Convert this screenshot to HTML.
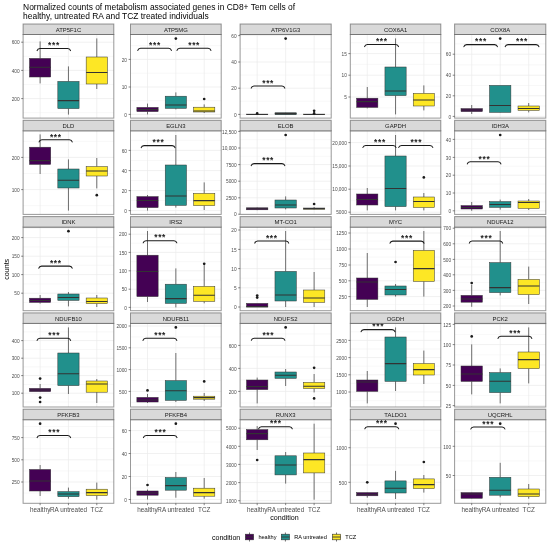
<!DOCTYPE html>
<html lang="en">
<head>
<meta charset="utf-8">
<title>Normalized counts of metabolism associated genes in CD8+ Tem cells</title>
<style>
html,body{margin:0;padding:0;background:#fff;}
body{width:550px;height:546px;overflow:hidden;}
svg{display:block;}
</style>
</head>
<body>
<svg width="550" height="546" viewBox="0 0 550 546" font-family="'Liberation Sans', sans-serif">
<rect x="0" y="0" width="550" height="546" fill="#ffffff"/>
<text x="23.1" y="9.8" font-size="8.44" fill="#000">Normalized counts of metabolism associated genes in CD8+ Tem cells of</text>
<text x="23.1" y="18.5" font-size="8.44" fill="#000">healthy, untreated RA and TCZ treated individuals</text>
<defs>
<clipPath id="cp0"><rect x="23.1" y="34.5" width="90.7" height="83.6"/></clipPath>
<clipPath id="cp1"><rect x="130.5" y="34.5" width="90.7" height="83.6"/></clipPath>
<clipPath id="cp2"><rect x="240.1" y="34.5" width="91.1" height="83.6"/></clipPath>
<clipPath id="cp3"><rect x="350.3" y="34.5" width="90.5" height="83.6"/></clipPath>
<clipPath id="cp4"><rect x="454.6" y="34.5" width="91.2" height="83.6"/></clipPath>
<clipPath id="cp5"><rect x="23.1" y="130.8" width="90.7" height="83.6"/></clipPath>
<clipPath id="cp6"><rect x="130.5" y="130.8" width="90.7" height="83.6"/></clipPath>
<clipPath id="cp7"><rect x="240.1" y="130.8" width="91.1" height="83.6"/></clipPath>
<clipPath id="cp8"><rect x="350.3" y="130.8" width="90.5" height="83.6"/></clipPath>
<clipPath id="cp9"><rect x="454.6" y="130.8" width="91.2" height="83.6"/></clipPath>
<clipPath id="cp10"><rect x="23.1" y="227.1" width="90.7" height="83.6"/></clipPath>
<clipPath id="cp11"><rect x="130.5" y="227.1" width="90.7" height="83.6"/></clipPath>
<clipPath id="cp12"><rect x="240.1" y="227.1" width="91.1" height="83.6"/></clipPath>
<clipPath id="cp13"><rect x="350.3" y="227.1" width="90.5" height="83.6"/></clipPath>
<clipPath id="cp14"><rect x="454.6" y="227.1" width="91.2" height="83.6"/></clipPath>
<clipPath id="cp15"><rect x="23.1" y="323.4" width="90.7" height="83.6"/></clipPath>
<clipPath id="cp16"><rect x="130.5" y="323.4" width="90.7" height="83.6"/></clipPath>
<clipPath id="cp17"><rect x="240.1" y="323.4" width="91.1" height="83.6"/></clipPath>
<clipPath id="cp18"><rect x="350.3" y="323.4" width="90.5" height="83.6"/></clipPath>
<clipPath id="cp19"><rect x="454.6" y="323.4" width="91.2" height="83.6"/></clipPath>
<clipPath id="cp20"><rect x="23.1" y="419.7" width="90.7" height="83.6"/></clipPath>
<clipPath id="cp21"><rect x="130.5" y="419.7" width="90.7" height="83.6"/></clipPath>
<clipPath id="cp22"><rect x="240.1" y="419.7" width="91.1" height="83.6"/></clipPath>
<clipPath id="cp23"><rect x="350.3" y="419.7" width="90.5" height="83.6"/></clipPath>
<clipPath id="cp24"><rect x="454.6" y="419.7" width="91.2" height="83.6"/></clipPath>
</defs>
<g>
<rect x="23.1" y="34.5" width="90.7" height="83.6" fill="#fff"/>
<g clip-path="url(#cp0)" stroke="#EBEBEB" fill="none">
<line x1="23.1" x2="113.8" y1="56.3" y2="56.3" stroke-width="0.35"/>
<line x1="23.1" x2="113.8" y1="84.5" y2="84.5" stroke-width="0.35"/>
<line x1="23.1" x2="113.8" y1="112.7" y2="112.7" stroke-width="0.35"/>
<line x1="23.1" x2="113.8" y1="42.2" y2="42.2" stroke-width="0.7"/>
<line x1="23.1" x2="113.8" y1="70.4" y2="70.4" stroke-width="0.7"/>
<line x1="23.1" x2="113.8" y1="98.6" y2="98.6" stroke-width="0.7"/>
<line x1="40.11" x2="40.11" y1="34.5" y2="118.1" stroke-width="0.7"/>
<line x1="68.45" x2="68.45" y1="34.5" y2="118.1" stroke-width="0.7"/>
<line x1="96.79" x2="96.79" y1="34.5" y2="118.1" stroke-width="0.7"/>
</g>
<g clip-path="url(#cp0)">
<line x1="40.11" x2="40.11" y1="41.4" y2="58.4" stroke="#333333" stroke-width="0.7"/>
<line x1="40.11" x2="40.11" y1="77" y2="83.4" stroke="#333333" stroke-width="0.7"/>
<rect x="29.48" y="58.4" width="21.26" height="18.6" fill="#440154" stroke="#333333" stroke-width="0.5"/>
<line x1="29.48" x2="50.74" y1="67.2" y2="67.2" stroke="#333333" stroke-width="1.05"/>
<line x1="68.45" x2="68.45" y1="66.4" y2="81.4" stroke="#333333" stroke-width="0.7"/>
<line x1="68.45" x2="68.45" y1="108.6" y2="114.6" stroke="#333333" stroke-width="0.7"/>
<rect x="57.82" y="81.4" width="21.26" height="27.2" fill="#21908C" stroke="#333333" stroke-width="0.5"/>
<line x1="57.82" x2="79.08" y1="100.6" y2="100.6" stroke="#333333" stroke-width="1.05"/>
<line x1="96.79" x2="96.79" y1="38.4" y2="57" stroke="#333333" stroke-width="0.7"/>
<line x1="96.79" x2="96.79" y1="84" y2="89" stroke="#333333" stroke-width="0.7"/>
<rect x="86.16" y="57" width="21.26" height="27" fill="#FDE725" stroke="#333333" stroke-width="0.5"/>
<line x1="86.16" x2="107.42" y1="72.4" y2="72.4" stroke="#333333" stroke-width="1.05"/>
<path d="M37.1 50.6 Q37.6 48.5 39.9 48.5 L67.7 48.5 Q70 48.5 70.5 50.6" fill="none" stroke="#1a1a1a" stroke-width="1.05" stroke-linecap="round"/>
<text x="53.95" y="48.2" font-size="8.4" font-weight="bold" letter-spacing="0.7" text-anchor="middle" fill="#222">***</text>
</g>
<rect x="23.1" y="34.5" width="90.7" height="83.6" fill="none" stroke="#333333" stroke-opacity="0.5" stroke-width="1"/>
<rect x="23.1" y="24" width="90.7" height="10.5" fill="#D9D9D9" stroke="#333333" stroke-opacity="0.5" stroke-width="1"/>
<text x="68.45" y="31.82" font-size="5.9" text-anchor="middle" fill="#1A1A1A">ATP5F1C</text>
<line x1="21.2" x2="23.1" y1="42.2" y2="42.2" stroke="#333333" stroke-width="0.6"/>
<text x="19.6" y="44.41" font-size="4.75" text-anchor="end" fill="#4D4D4D">600</text>
<line x1="21.2" x2="23.1" y1="70.4" y2="70.4" stroke="#333333" stroke-width="0.6"/>
<text x="19.6" y="72.61" font-size="4.75" text-anchor="end" fill="#4D4D4D">400</text>
<line x1="21.2" x2="23.1" y1="98.6" y2="98.6" stroke="#333333" stroke-width="0.6"/>
<text x="19.6" y="100.81" font-size="4.75" text-anchor="end" fill="#4D4D4D">200</text>
</g>
<g>
<rect x="130.5" y="34.5" width="90.7" height="83.6" fill="#fff"/>
<g clip-path="url(#cp1)" stroke="#EBEBEB" fill="none">
<line x1="130.5" x2="221.2" y1="45.65" y2="45.65" stroke-width="0.35"/>
<line x1="130.5" x2="221.2" y1="73.25" y2="73.25" stroke-width="0.35"/>
<line x1="130.5" x2="221.2" y1="100.65" y2="100.65" stroke-width="0.35"/>
<line x1="130.5" x2="221.2" y1="59.4" y2="59.4" stroke-width="0.7"/>
<line x1="130.5" x2="221.2" y1="87" y2="87" stroke-width="0.7"/>
<line x1="130.5" x2="221.2" y1="114.4" y2="114.4" stroke-width="0.7"/>
<line x1="147.51" x2="147.51" y1="34.5" y2="118.1" stroke-width="0.7"/>
<line x1="175.85" x2="175.85" y1="34.5" y2="118.1" stroke-width="0.7"/>
<line x1="204.19" x2="204.19" y1="34.5" y2="118.1" stroke-width="0.7"/>
</g>
<g clip-path="url(#cp1)">
<line x1="147.51" x2="147.51" y1="103.6" y2="107.4" stroke="#333333" stroke-width="0.7"/>
<line x1="147.51" x2="147.51" y1="111.6" y2="114.4" stroke="#333333" stroke-width="0.7"/>
<rect x="136.88" y="107.4" width="21.26" height="4.2" fill="#440154" stroke="#333333" stroke-width="0.5"/>
<line x1="136.88" x2="158.14" y1="109.6" y2="109.6" stroke="#333333" stroke-width="1.05"/>
<line x1="175.85" x2="175.85" y1="92.4" y2="96.2" stroke="#333333" stroke-width="0.7"/>
<line x1="175.85" x2="175.85" y1="108.4" y2="109.4" stroke="#333333" stroke-width="0.7"/>
<rect x="165.22" y="96.2" width="21.26" height="12.2" fill="#21908C" stroke="#333333" stroke-width="0.5"/>
<line x1="165.22" x2="186.48" y1="105" y2="105" stroke="#333333" stroke-width="1.05"/>
<line x1="204.19" x2="204.19" y1="104.4" y2="107.2" stroke="#333333" stroke-width="0.7"/>
<line x1="204.19" x2="204.19" y1="112" y2="113" stroke="#333333" stroke-width="0.7"/>
<rect x="193.56" y="107.2" width="21.26" height="4.8" fill="#FDE725" stroke="#333333" stroke-width="0.5"/>
<line x1="193.56" x2="214.82" y1="111" y2="111" stroke="#333333" stroke-width="1.05"/>
<circle cx="175.85" cy="38.6" r="1.35" fill="#1a1a1a"/>
<circle cx="204.19" cy="99" r="1.35" fill="#1a1a1a"/>
<path d="M137.8 50.4 Q138.3 48.3 140.6 48.3 L168.6 48.3 Q170.9 48.3 171.4 50.4" fill="none" stroke="#1a1a1a" stroke-width="1.05" stroke-linecap="round"/>
<text x="154.95" y="48" font-size="8.4" font-weight="bold" letter-spacing="0.7" text-anchor="middle" fill="#222">***</text>
<path d="M177 50.4 Q177.5 48.3 179.8 48.3 L208.1 48.3 Q210.4 48.3 210.9 50.4" fill="none" stroke="#1a1a1a" stroke-width="1.05" stroke-linecap="round"/>
<text x="194.15" y="48" font-size="8.4" font-weight="bold" letter-spacing="0.7" text-anchor="middle" fill="#222">***</text>
</g>
<rect x="130.5" y="34.5" width="90.7" height="83.6" fill="none" stroke="#333333" stroke-opacity="0.5" stroke-width="1"/>
<rect x="130.5" y="24" width="90.7" height="10.5" fill="#D9D9D9" stroke="#333333" stroke-opacity="0.5" stroke-width="1"/>
<text x="175.85" y="31.82" font-size="5.9" text-anchor="middle" fill="#1A1A1A">ATP5MG</text>
<line x1="128.6" x2="130.5" y1="59.4" y2="59.4" stroke="#333333" stroke-width="0.6"/>
<text x="127" y="61.61" font-size="4.75" text-anchor="end" fill="#4D4D4D">20</text>
<line x1="128.6" x2="130.5" y1="87" y2="87" stroke="#333333" stroke-width="0.6"/>
<text x="127" y="89.21" font-size="4.75" text-anchor="end" fill="#4D4D4D">10</text>
<line x1="128.6" x2="130.5" y1="114.4" y2="114.4" stroke="#333333" stroke-width="0.6"/>
<text x="127" y="116.61" font-size="4.75" text-anchor="end" fill="#4D4D4D">0</text>
</g>
<g>
<rect x="240.1" y="34.5" width="91.1" height="83.6" fill="#fff"/>
<g clip-path="url(#cp2)" stroke="#EBEBEB" fill="none">
<line x1="240.1" x2="331.2" y1="48.87" y2="48.87" stroke-width="0.35"/>
<line x1="240.1" x2="331.2" y1="75.07" y2="75.07" stroke-width="0.35"/>
<line x1="240.1" x2="331.2" y1="101.27" y2="101.27" stroke-width="0.35"/>
<line x1="240.1" x2="331.2" y1="35.6" y2="35.6" stroke-width="0.7"/>
<line x1="240.1" x2="331.2" y1="62" y2="62" stroke-width="0.7"/>
<line x1="240.1" x2="331.2" y1="88.2" y2="88.2" stroke-width="0.7"/>
<line x1="240.1" x2="331.2" y1="114.4" y2="114.4" stroke-width="0.7"/>
<line x1="257.18" x2="257.18" y1="34.5" y2="118.1" stroke-width="0.7"/>
<line x1="285.65" x2="285.65" y1="34.5" y2="118.1" stroke-width="0.7"/>
<line x1="314.12" x2="314.12" y1="34.5" y2="118.1" stroke-width="0.7"/>
</g>
<g clip-path="url(#cp2)">
<line x1="257.18" x2="257.18" y1="114.2" y2="114.1" stroke="#333333" stroke-width="0.7"/>
<line x1="257.18" x2="257.18" y1="114.7" y2="114.6" stroke="#333333" stroke-width="0.7"/>
<rect x="246.51" y="114.1" width="21.35" height="0.6" fill="#440154" stroke="#333333" stroke-width="0.5"/>
<line x1="246.51" x2="267.86" y1="114.4" y2="114.4" stroke="#333333" stroke-width="1.05"/>
<line x1="285.65" x2="285.65" y1="112.6" y2="112.85" stroke="#333333" stroke-width="0.7"/>
<line x1="285.65" x2="285.65" y1="114.55" y2="114.8" stroke="#333333" stroke-width="0.7"/>
<rect x="274.97" y="112.85" width="21.35" height="1.7" fill="#21908C" stroke="#333333" stroke-width="0.5"/>
<line x1="274.97" x2="296.33" y1="113.7" y2="113.7" stroke="#333333" stroke-width="1.7"/>
<line x1="314.12" x2="314.12" y1="114.2" y2="114.1" stroke="#333333" stroke-width="0.7"/>
<line x1="314.12" x2="314.12" y1="114.7" y2="114.6" stroke="#333333" stroke-width="0.7"/>
<rect x="303.44" y="114.1" width="21.35" height="0.6" fill="#FDE725" stroke="#333333" stroke-width="0.5"/>
<line x1="303.44" x2="324.79" y1="114.4" y2="114.4" stroke="#333333" stroke-width="1.05"/>
<circle cx="257.18" cy="113.4" r="1.35" fill="#1a1a1a"/>
<circle cx="285.65" cy="38.6" r="1.35" fill="#1a1a1a"/>
<circle cx="314.12" cy="110.8" r="1.35" fill="#1a1a1a"/>
<circle cx="314.12" cy="113.4" r="1.35" fill="#1a1a1a"/>
<path d="M251.2 88.1 Q251.7 86 254 86 L282 86 Q284.3 86 284.8 88.1" fill="none" stroke="#1a1a1a" stroke-width="1.05" stroke-linecap="round"/>
<text x="268.15" y="85.7" font-size="8.4" font-weight="bold" letter-spacing="0.7" text-anchor="middle" fill="#222">***</text>
</g>
<rect x="240.1" y="34.5" width="91.1" height="83.6" fill="none" stroke="#333333" stroke-opacity="0.5" stroke-width="1"/>
<rect x="240.1" y="24" width="91.1" height="10.5" fill="#D9D9D9" stroke="#333333" stroke-opacity="0.5" stroke-width="1"/>
<text x="285.65" y="31.82" font-size="5.9" text-anchor="middle" fill="#1A1A1A">ATP6V1G3</text>
<line x1="238.2" x2="240.1" y1="35.6" y2="35.6" stroke="#333333" stroke-width="0.6"/>
<text x="236.6" y="37.81" font-size="4.75" text-anchor="end" fill="#4D4D4D">60</text>
<line x1="238.2" x2="240.1" y1="62" y2="62" stroke="#333333" stroke-width="0.6"/>
<text x="236.6" y="64.21" font-size="4.75" text-anchor="end" fill="#4D4D4D">40</text>
<line x1="238.2" x2="240.1" y1="88.2" y2="88.2" stroke="#333333" stroke-width="0.6"/>
<text x="236.6" y="90.41" font-size="4.75" text-anchor="end" fill="#4D4D4D">20</text>
<line x1="238.2" x2="240.1" y1="114.4" y2="114.4" stroke="#333333" stroke-width="0.6"/>
<text x="236.6" y="116.61" font-size="4.75" text-anchor="end" fill="#4D4D4D">0</text>
</g>
<g>
<rect x="350.3" y="34.5" width="90.5" height="83.6" fill="#fff"/>
<g clip-path="url(#cp3)" stroke="#EBEBEB" fill="none">
<line x1="350.3" x2="440.8" y1="42.75" y2="42.75" stroke-width="0.35"/>
<line x1="350.3" x2="440.8" y1="64.35" y2="64.35" stroke-width="0.35"/>
<line x1="350.3" x2="440.8" y1="86.15" y2="86.15" stroke-width="0.35"/>
<line x1="350.3" x2="440.8" y1="107.85" y2="107.85" stroke-width="0.35"/>
<line x1="350.3" x2="440.8" y1="53.6" y2="53.6" stroke-width="0.7"/>
<line x1="350.3" x2="440.8" y1="75.2" y2="75.2" stroke-width="0.7"/>
<line x1="350.3" x2="440.8" y1="97" y2="97" stroke-width="0.7"/>
<line x1="367.27" x2="367.27" y1="34.5" y2="118.1" stroke-width="0.7"/>
<line x1="395.55" x2="395.55" y1="34.5" y2="118.1" stroke-width="0.7"/>
<line x1="423.83" x2="423.83" y1="34.5" y2="118.1" stroke-width="0.7"/>
</g>
<g clip-path="url(#cp3)">
<line x1="367.27" x2="367.27" y1="87" y2="98.2" stroke="#333333" stroke-width="0.7"/>
<line x1="367.27" x2="367.27" y1="107.4" y2="108.4" stroke="#333333" stroke-width="0.7"/>
<rect x="356.66" y="98.2" width="21.21" height="9.2" fill="#440154" stroke="#333333" stroke-width="0.5"/>
<line x1="356.66" x2="377.87" y1="101.6" y2="101.6" stroke="#333333" stroke-width="1.05"/>
<line x1="395.55" x2="395.55" y1="38.4" y2="67" stroke="#333333" stroke-width="0.7"/>
<line x1="395.55" x2="395.55" y1="95.6" y2="114.4" stroke="#333333" stroke-width="0.7"/>
<rect x="384.94" y="67" width="21.21" height="28.6" fill="#21908C" stroke="#333333" stroke-width="0.5"/>
<line x1="384.94" x2="406.16" y1="91" y2="91" stroke="#333333" stroke-width="1.05"/>
<line x1="423.83" x2="423.83" y1="85.4" y2="93.4" stroke="#333333" stroke-width="0.7"/>
<line x1="423.83" x2="423.83" y1="106" y2="110.4" stroke="#333333" stroke-width="0.7"/>
<rect x="413.23" y="93.4" width="21.21" height="12.6" fill="#FDE725" stroke="#333333" stroke-width="0.5"/>
<line x1="413.23" x2="434.44" y1="100" y2="100" stroke="#333333" stroke-width="1.05"/>
<path d="M364.6 46.6 Q365.1 44.5 367.4 44.5 L395.7 44.5 Q398 44.5 398.5 46.6" fill="none" stroke="#1a1a1a" stroke-width="1.05" stroke-linecap="round"/>
<text x="381.85" y="44.2" font-size="8.4" font-weight="bold" letter-spacing="0.7" text-anchor="middle" fill="#222">***</text>
</g>
<rect x="350.3" y="34.5" width="90.5" height="83.6" fill="none" stroke="#333333" stroke-opacity="0.5" stroke-width="1"/>
<rect x="350.3" y="24" width="90.5" height="10.5" fill="#D9D9D9" stroke="#333333" stroke-opacity="0.5" stroke-width="1"/>
<text x="395.55" y="31.82" font-size="5.9" text-anchor="middle" fill="#1A1A1A">COX6A1</text>
<line x1="348.4" x2="350.3" y1="53.6" y2="53.6" stroke="#333333" stroke-width="0.6"/>
<text x="346.8" y="55.81" font-size="4.75" text-anchor="end" fill="#4D4D4D">15</text>
<line x1="348.4" x2="350.3" y1="75.2" y2="75.2" stroke="#333333" stroke-width="0.6"/>
<text x="346.8" y="77.41" font-size="4.75" text-anchor="end" fill="#4D4D4D">10</text>
<line x1="348.4" x2="350.3" y1="97" y2="97" stroke="#333333" stroke-width="0.6"/>
<text x="346.8" y="99.21" font-size="4.75" text-anchor="end" fill="#4D4D4D">5</text>
</g>
<g>
<rect x="454.6" y="34.5" width="91.2" height="83.6" fill="#fff"/>
<g clip-path="url(#cp4)" stroke="#EBEBEB" fill="none">
<line x1="454.6" x2="545.8" y1="43.83" y2="43.83" stroke-width="0.35"/>
<line x1="454.6" x2="545.8" y1="64.83" y2="64.83" stroke-width="0.35"/>
<line x1="454.6" x2="545.8" y1="85.43" y2="85.43" stroke-width="0.35"/>
<line x1="454.6" x2="545.8" y1="106.03" y2="106.03" stroke-width="0.35"/>
<line x1="454.6" x2="545.8" y1="54.2" y2="54.2" stroke-width="0.7"/>
<line x1="454.6" x2="545.8" y1="75.2" y2="75.2" stroke-width="0.7"/>
<line x1="454.6" x2="545.8" y1="95.8" y2="95.8" stroke-width="0.7"/>
<line x1="454.6" x2="545.8" y1="116.4" y2="116.4" stroke-width="0.7"/>
<line x1="471.7" x2="471.7" y1="34.5" y2="118.1" stroke-width="0.7"/>
<line x1="500.2" x2="500.2" y1="34.5" y2="118.1" stroke-width="0.7"/>
<line x1="528.7" x2="528.7" y1="34.5" y2="118.1" stroke-width="0.7"/>
</g>
<g clip-path="url(#cp4)">
<line x1="471.7" x2="471.7" y1="105" y2="108.6" stroke="#333333" stroke-width="0.7"/>
<line x1="471.7" x2="471.7" y1="111.6" y2="114" stroke="#333333" stroke-width="0.7"/>
<rect x="461.01" y="108.6" width="21.37" height="3" fill="#440154" stroke="#333333" stroke-width="0.5"/>
<line x1="461.01" x2="482.39" y1="110" y2="110" stroke="#333333" stroke-width="1.05"/>
<line x1="500.2" x2="500.2" y1="85.4" y2="85.4" stroke="#333333" stroke-width="0.7"/>
<line x1="500.2" x2="500.2" y1="112.4" y2="112.6" stroke="#333333" stroke-width="0.7"/>
<rect x="489.51" y="85.4" width="21.37" height="27" fill="#21908C" stroke="#333333" stroke-width="0.5"/>
<line x1="489.51" x2="510.89" y1="105.4" y2="105.4" stroke="#333333" stroke-width="1.05"/>
<line x1="528.7" x2="528.7" y1="103" y2="106" stroke="#333333" stroke-width="0.7"/>
<line x1="528.7" x2="528.7" y1="110.4" y2="112.4" stroke="#333333" stroke-width="0.7"/>
<rect x="518.01" y="106" width="21.37" height="4.4" fill="#FDE725" stroke="#333333" stroke-width="0.5"/>
<line x1="518.01" x2="539.39" y1="108.4" y2="108.4" stroke="#333333" stroke-width="1.05"/>
<circle cx="500.2" cy="38.6" r="1.35" fill="#1a1a1a"/>
<path d="M463.9 46.7 Q464.4 44.6 466.7 44.6 L494.6 44.6 Q496.9 44.6 497.4 46.7" fill="none" stroke="#1a1a1a" stroke-width="1.05" stroke-linecap="round"/>
<text x="481.05" y="44.3" font-size="8.4" font-weight="bold" letter-spacing="0.7" text-anchor="middle" fill="#222">***</text>
<path d="M505.2 46.7 Q505.7 44.6 508 44.6 L536.1 44.6 Q538.4 44.6 538.9 46.7" fill="none" stroke="#1a1a1a" stroke-width="1.05" stroke-linecap="round"/>
<text x="521.95" y="44.3" font-size="8.4" font-weight="bold" letter-spacing="0.7" text-anchor="middle" fill="#222">***</text>
</g>
<rect x="454.6" y="34.5" width="91.2" height="83.6" fill="none" stroke="#333333" stroke-opacity="0.5" stroke-width="1"/>
<rect x="454.6" y="24" width="91.2" height="10.5" fill="#D9D9D9" stroke="#333333" stroke-opacity="0.5" stroke-width="1"/>
<text x="500.2" y="31.82" font-size="5.9" text-anchor="middle" fill="#1A1A1A">COX8A</text>
<line x1="452.7" x2="454.6" y1="54.2" y2="54.2" stroke="#333333" stroke-width="0.6"/>
<text x="451.1" y="56.41" font-size="4.75" text-anchor="end" fill="#4D4D4D">60</text>
<line x1="452.7" x2="454.6" y1="75.2" y2="75.2" stroke="#333333" stroke-width="0.6"/>
<text x="451.1" y="77.41" font-size="4.75" text-anchor="end" fill="#4D4D4D">40</text>
<line x1="452.7" x2="454.6" y1="95.8" y2="95.8" stroke="#333333" stroke-width="0.6"/>
<text x="451.1" y="98.01" font-size="4.75" text-anchor="end" fill="#4D4D4D">20</text>
<line x1="452.7" x2="454.6" y1="116.4" y2="116.4" stroke="#333333" stroke-width="0.6"/>
<text x="451.1" y="118.61" font-size="4.75" text-anchor="end" fill="#4D4D4D">0</text>
</g>
<g>
<rect x="23.1" y="130.8" width="90.7" height="83.6" fill="#fff"/>
<g clip-path="url(#cp5)" stroke="#EBEBEB" fill="none">
<line x1="23.1" x2="113.8" y1="141.3" y2="141.3" stroke-width="0.35"/>
<line x1="23.1" x2="113.8" y1="173.5" y2="173.5" stroke-width="0.35"/>
<line x1="23.1" x2="113.8" y1="205.7" y2="205.7" stroke-width="0.35"/>
<line x1="23.1" x2="113.8" y1="157.4" y2="157.4" stroke-width="0.7"/>
<line x1="23.1" x2="113.8" y1="189.6" y2="189.6" stroke-width="0.7"/>
<line x1="40.11" x2="40.11" y1="130.8" y2="214.4" stroke-width="0.7"/>
<line x1="68.45" x2="68.45" y1="130.8" y2="214.4" stroke-width="0.7"/>
<line x1="96.79" x2="96.79" y1="130.8" y2="214.4" stroke-width="0.7"/>
</g>
<g clip-path="url(#cp5)">
<line x1="40.11" x2="40.11" y1="134.4" y2="147.2" stroke="#333333" stroke-width="0.7"/>
<line x1="40.11" x2="40.11" y1="164.4" y2="174" stroke="#333333" stroke-width="0.7"/>
<rect x="29.48" y="147.2" width="21.26" height="17.2" fill="#440154" stroke="#333333" stroke-width="0.5"/>
<line x1="29.48" x2="50.74" y1="160.6" y2="160.6" stroke="#333333" stroke-width="1.05"/>
<line x1="68.45" x2="68.45" y1="159.4" y2="169" stroke="#333333" stroke-width="0.7"/>
<line x1="68.45" x2="68.45" y1="188" y2="210.6" stroke="#333333" stroke-width="0.7"/>
<rect x="57.82" y="169" width="21.26" height="19" fill="#21908C" stroke="#333333" stroke-width="0.5"/>
<line x1="57.82" x2="79.08" y1="180.2" y2="180.2" stroke="#333333" stroke-width="1.05"/>
<line x1="96.79" x2="96.79" y1="158" y2="166.6" stroke="#333333" stroke-width="0.7"/>
<line x1="96.79" x2="96.79" y1="176" y2="188.4" stroke="#333333" stroke-width="0.7"/>
<rect x="86.16" y="166.6" width="21.26" height="9.4" fill="#FDE725" stroke="#333333" stroke-width="0.5"/>
<line x1="86.16" x2="107.42" y1="171" y2="171" stroke="#333333" stroke-width="1.05"/>
<circle cx="96.79" cy="195.2" r="1.35" fill="#1a1a1a"/>
<path d="M39.1 141.9 Q39.6 139.8 41.9 139.8 L69.4 139.8 Q71.7 139.8 72.2 141.9" fill="none" stroke="#1a1a1a" stroke-width="1.05" stroke-linecap="round"/>
<text x="55.85" y="139.5" font-size="8.4" font-weight="bold" letter-spacing="0.7" text-anchor="middle" fill="#222">***</text>
</g>
<rect x="23.1" y="130.8" width="90.7" height="83.6" fill="none" stroke="#333333" stroke-opacity="0.5" stroke-width="1"/>
<rect x="23.1" y="120.3" width="90.7" height="10.5" fill="#D9D9D9" stroke="#333333" stroke-opacity="0.5" stroke-width="1"/>
<text x="68.45" y="128.12" font-size="5.9" text-anchor="middle" fill="#1A1A1A">DLD</text>
<line x1="21.2" x2="23.1" y1="157.4" y2="157.4" stroke="#333333" stroke-width="0.6"/>
<text x="19.6" y="159.61" font-size="4.75" text-anchor="end" fill="#4D4D4D">200</text>
<line x1="21.2" x2="23.1" y1="189.6" y2="189.6" stroke="#333333" stroke-width="0.6"/>
<text x="19.6" y="191.81" font-size="4.75" text-anchor="end" fill="#4D4D4D">100</text>
</g>
<g>
<rect x="130.5" y="130.8" width="90.7" height="83.6" fill="#fff"/>
<g clip-path="url(#cp6)" stroke="#EBEBEB" fill="none">
<line x1="130.5" x2="221.2" y1="140.37" y2="140.37" stroke-width="0.35"/>
<line x1="130.5" x2="221.2" y1="160.57" y2="160.57" stroke-width="0.35"/>
<line x1="130.5" x2="221.2" y1="180.57" y2="180.57" stroke-width="0.35"/>
<line x1="130.5" x2="221.2" y1="200.57" y2="200.57" stroke-width="0.35"/>
<line x1="130.5" x2="221.2" y1="150.4" y2="150.4" stroke-width="0.7"/>
<line x1="130.5" x2="221.2" y1="170.6" y2="170.6" stroke-width="0.7"/>
<line x1="130.5" x2="221.2" y1="190.6" y2="190.6" stroke-width="0.7"/>
<line x1="130.5" x2="221.2" y1="210.6" y2="210.6" stroke-width="0.7"/>
<line x1="147.51" x2="147.51" y1="130.8" y2="214.4" stroke-width="0.7"/>
<line x1="175.85" x2="175.85" y1="130.8" y2="214.4" stroke-width="0.7"/>
<line x1="204.19" x2="204.19" y1="130.8" y2="214.4" stroke-width="0.7"/>
</g>
<g clip-path="url(#cp6)">
<line x1="147.51" x2="147.51" y1="195" y2="196.6" stroke="#333333" stroke-width="0.7"/>
<line x1="147.51" x2="147.51" y1="207.6" y2="210.6" stroke="#333333" stroke-width="0.7"/>
<rect x="136.88" y="196.6" width="21.26" height="11" fill="#440154" stroke="#333333" stroke-width="0.5"/>
<line x1="136.88" x2="158.14" y1="200.4" y2="200.4" stroke="#333333" stroke-width="1.05"/>
<line x1="175.85" x2="175.85" y1="135" y2="165" stroke="#333333" stroke-width="0.7"/>
<line x1="175.85" x2="175.85" y1="205.4" y2="207.6" stroke="#333333" stroke-width="0.7"/>
<rect x="165.22" y="165" width="21.26" height="40.4" fill="#21908C" stroke="#333333" stroke-width="0.5"/>
<line x1="165.22" x2="186.48" y1="196" y2="196" stroke="#333333" stroke-width="1.05"/>
<line x1="204.19" x2="204.19" y1="182.4" y2="193.4" stroke="#333333" stroke-width="0.7"/>
<line x1="204.19" x2="204.19" y1="205.6" y2="210" stroke="#333333" stroke-width="0.7"/>
<rect x="193.56" y="193.4" width="21.26" height="12.2" fill="#FDE725" stroke="#333333" stroke-width="0.5"/>
<line x1="193.56" x2="214.82" y1="200.6" y2="200.6" stroke="#333333" stroke-width="1.05"/>
<path d="M141.2 147.7 Q141.7 145.6 144 145.6 L172.2 145.6 Q174.5 145.6 175 147.7" fill="none" stroke="#1a1a1a" stroke-width="1.05" stroke-linecap="round"/>
<text x="158.55" y="145.3" font-size="8.4" font-weight="bold" letter-spacing="0.7" text-anchor="middle" fill="#222">***</text>
</g>
<rect x="130.5" y="130.8" width="90.7" height="83.6" fill="none" stroke="#333333" stroke-opacity="0.5" stroke-width="1"/>
<rect x="130.5" y="120.3" width="90.7" height="10.5" fill="#D9D9D9" stroke="#333333" stroke-opacity="0.5" stroke-width="1"/>
<text x="175.85" y="128.12" font-size="5.9" text-anchor="middle" fill="#1A1A1A">EGLN3</text>
<line x1="128.6" x2="130.5" y1="150.4" y2="150.4" stroke="#333333" stroke-width="0.6"/>
<text x="127" y="152.61" font-size="4.75" text-anchor="end" fill="#4D4D4D">60</text>
<line x1="128.6" x2="130.5" y1="170.6" y2="170.6" stroke="#333333" stroke-width="0.6"/>
<text x="127" y="172.81" font-size="4.75" text-anchor="end" fill="#4D4D4D">40</text>
<line x1="128.6" x2="130.5" y1="190.6" y2="190.6" stroke="#333333" stroke-width="0.6"/>
<text x="127" y="192.81" font-size="4.75" text-anchor="end" fill="#4D4D4D">20</text>
<line x1="128.6" x2="130.5" y1="210.6" y2="210.6" stroke="#333333" stroke-width="0.6"/>
<text x="127" y="212.81" font-size="4.75" text-anchor="end" fill="#4D4D4D">0</text>
</g>
<g>
<rect x="240.1" y="130.8" width="91.1" height="83.6" fill="#fff"/>
<g clip-path="url(#cp7)" stroke="#EBEBEB" fill="none">
<line x1="240.1" x2="331.2" y1="139.72" y2="139.72" stroke-width="0.35"/>
<line x1="240.1" x2="331.2" y1="156.32" y2="156.32" stroke-width="0.35"/>
<line x1="240.1" x2="331.2" y1="172.92" y2="172.92" stroke-width="0.35"/>
<line x1="240.1" x2="331.2" y1="189.52" y2="189.52" stroke-width="0.35"/>
<line x1="240.1" x2="331.2" y1="205.92" y2="205.92" stroke-width="0.35"/>
<line x1="240.1" x2="331.2" y1="131.4" y2="131.4" stroke-width="0.7"/>
<line x1="240.1" x2="331.2" y1="148" y2="148" stroke-width="0.7"/>
<line x1="240.1" x2="331.2" y1="164.6" y2="164.6" stroke-width="0.7"/>
<line x1="240.1" x2="331.2" y1="181.2" y2="181.2" stroke-width="0.7"/>
<line x1="240.1" x2="331.2" y1="197.8" y2="197.8" stroke-width="0.7"/>
<line x1="240.1" x2="331.2" y1="214.2" y2="214.2" stroke-width="0.7"/>
<line x1="257.18" x2="257.18" y1="130.8" y2="214.4" stroke-width="0.7"/>
<line x1="285.65" x2="285.65" y1="130.8" y2="214.4" stroke-width="0.7"/>
<line x1="314.12" x2="314.12" y1="130.8" y2="214.4" stroke-width="0.7"/>
</g>
<g clip-path="url(#cp7)">
<line x1="257.18" x2="257.18" y1="207.4" y2="207.8" stroke="#333333" stroke-width="0.7"/>
<line x1="257.18" x2="257.18" y1="209.8" y2="210.2" stroke="#333333" stroke-width="0.7"/>
<rect x="246.51" y="207.8" width="21.35" height="2" fill="#440154" stroke="#333333" stroke-width="0.5"/>
<line x1="246.51" x2="267.86" y1="208.8" y2="208.8" stroke="#333333" stroke-width="1.05"/>
<line x1="285.65" x2="285.65" y1="196.4" y2="200" stroke="#333333" stroke-width="0.7"/>
<line x1="285.65" x2="285.65" y1="208" y2="209.4" stroke="#333333" stroke-width="0.7"/>
<rect x="274.97" y="200" width="21.35" height="8" fill="#21908C" stroke="#333333" stroke-width="0.5"/>
<line x1="274.97" x2="296.33" y1="205" y2="205" stroke="#333333" stroke-width="1.05"/>
<line x1="314.12" x2="314.12" y1="207" y2="208" stroke="#333333" stroke-width="0.7"/>
<line x1="314.12" x2="314.12" y1="209.2" y2="209.6" stroke="#333333" stroke-width="0.7"/>
<rect x="303.44" y="208" width="21.35" height="1.2" fill="#FDE725" stroke="#333333" stroke-width="0.5"/>
<line x1="303.44" x2="324.79" y1="208.6" y2="208.6" stroke="#333333" stroke-width="1.05"/>
<circle cx="285.65" cy="135" r="1.35" fill="#1a1a1a"/>
<circle cx="314.12" cy="204" r="1.35" fill="#1a1a1a"/>
<path d="M251.2 165.7 Q251.7 163.6 254 163.6 L282 163.6 Q284.3 163.6 284.8 165.7" fill="none" stroke="#1a1a1a" stroke-width="1.05" stroke-linecap="round"/>
<text x="268.15" y="163.3" font-size="8.4" font-weight="bold" letter-spacing="0.7" text-anchor="middle" fill="#222">***</text>
</g>
<rect x="240.1" y="130.8" width="91.1" height="83.6" fill="none" stroke="#333333" stroke-opacity="0.5" stroke-width="1"/>
<rect x="240.1" y="120.3" width="91.1" height="10.5" fill="#D9D9D9" stroke="#333333" stroke-opacity="0.5" stroke-width="1"/>
<text x="285.65" y="128.12" font-size="5.9" text-anchor="middle" fill="#1A1A1A">ELOB</text>
<line x1="238.2" x2="240.1" y1="131.4" y2="131.4" stroke="#333333" stroke-width="0.6"/>
<text x="236.6" y="133.61" font-size="4.75" text-anchor="end" fill="#4D4D4D">12,500</text>
<line x1="238.2" x2="240.1" y1="148" y2="148" stroke="#333333" stroke-width="0.6"/>
<text x="236.6" y="150.21" font-size="4.75" text-anchor="end" fill="#4D4D4D">10,000</text>
<line x1="238.2" x2="240.1" y1="164.6" y2="164.6" stroke="#333333" stroke-width="0.6"/>
<text x="236.6" y="166.81" font-size="4.75" text-anchor="end" fill="#4D4D4D">7500</text>
<line x1="238.2" x2="240.1" y1="181.2" y2="181.2" stroke="#333333" stroke-width="0.6"/>
<text x="236.6" y="183.41" font-size="4.75" text-anchor="end" fill="#4D4D4D">5000</text>
<line x1="238.2" x2="240.1" y1="197.8" y2="197.8" stroke="#333333" stroke-width="0.6"/>
<text x="236.6" y="200.01" font-size="4.75" text-anchor="end" fill="#4D4D4D">2500</text>
<line x1="238.2" x2="240.1" y1="214.2" y2="214.2" stroke="#333333" stroke-width="0.6"/>
<text x="236.6" y="216.41" font-size="4.75" text-anchor="end" fill="#4D4D4D">0</text>
</g>
<g>
<rect x="350.3" y="130.8" width="90.5" height="83.6" fill="#fff"/>
<g clip-path="url(#cp8)" stroke="#EBEBEB" fill="none">
<line x1="350.3" x2="440.8" y1="131" y2="131" stroke-width="0.35"/>
<line x1="350.3" x2="440.8" y1="154.4" y2="154.4" stroke-width="0.35"/>
<line x1="350.3" x2="440.8" y1="177.6" y2="177.6" stroke-width="0.35"/>
<line x1="350.3" x2="440.8" y1="200.6" y2="200.6" stroke-width="0.35"/>
<line x1="350.3" x2="440.8" y1="142.6" y2="142.6" stroke-width="0.7"/>
<line x1="350.3" x2="440.8" y1="166" y2="166" stroke-width="0.7"/>
<line x1="350.3" x2="440.8" y1="189.2" y2="189.2" stroke-width="0.7"/>
<line x1="350.3" x2="440.8" y1="212.2" y2="212.2" stroke-width="0.7"/>
<line x1="367.27" x2="367.27" y1="130.8" y2="214.4" stroke-width="0.7"/>
<line x1="395.55" x2="395.55" y1="130.8" y2="214.4" stroke-width="0.7"/>
<line x1="423.83" x2="423.83" y1="130.8" y2="214.4" stroke-width="0.7"/>
</g>
<g clip-path="url(#cp8)">
<line x1="367.27" x2="367.27" y1="188" y2="194" stroke="#333333" stroke-width="0.7"/>
<line x1="367.27" x2="367.27" y1="205" y2="210.4" stroke="#333333" stroke-width="0.7"/>
<rect x="356.66" y="194" width="21.21" height="11" fill="#440154" stroke="#333333" stroke-width="0.5"/>
<line x1="356.66" x2="377.87" y1="199.4" y2="199.4" stroke="#333333" stroke-width="1.05"/>
<line x1="395.55" x2="395.55" y1="135" y2="156" stroke="#333333" stroke-width="0.7"/>
<line x1="395.55" x2="395.55" y1="206.6" y2="210.4" stroke="#333333" stroke-width="0.7"/>
<rect x="384.94" y="156" width="21.21" height="50.6" fill="#21908C" stroke="#333333" stroke-width="0.5"/>
<line x1="384.94" x2="406.16" y1="188.4" y2="188.4" stroke="#333333" stroke-width="1.05"/>
<line x1="423.83" x2="423.83" y1="193" y2="197" stroke="#333333" stroke-width="0.7"/>
<line x1="423.83" x2="423.83" y1="207.5" y2="210.4" stroke="#333333" stroke-width="0.7"/>
<rect x="413.23" y="197" width="21.21" height="10.5" fill="#FDE725" stroke="#333333" stroke-width="0.5"/>
<line x1="413.23" x2="434.44" y1="201.4" y2="201.4" stroke="#333333" stroke-width="1.05"/>
<circle cx="423.83" cy="177.4" r="1.35" fill="#1a1a1a"/>
<path d="M362.9 147.5 Q363.4 145.4 365.7 145.4 L393.2 145.4 Q395.5 145.4 396 147.5" fill="none" stroke="#1a1a1a" stroke-width="1.05" stroke-linecap="round"/>
<text x="380.05" y="145.1" font-size="8.4" font-weight="bold" letter-spacing="0.7" text-anchor="middle" fill="#222">***</text>
<path d="M398.7 147.5 Q399.2 145.4 401.5 145.4 L430 145.4 Q432.3 145.4 432.8 147.5" fill="none" stroke="#1a1a1a" stroke-width="1.05" stroke-linecap="round"/>
<text x="416.35" y="145.1" font-size="8.4" font-weight="bold" letter-spacing="0.7" text-anchor="middle" fill="#222">***</text>
</g>
<rect x="350.3" y="130.8" width="90.5" height="83.6" fill="none" stroke="#333333" stroke-opacity="0.5" stroke-width="1"/>
<rect x="350.3" y="120.3" width="90.5" height="10.5" fill="#D9D9D9" stroke="#333333" stroke-opacity="0.5" stroke-width="1"/>
<text x="395.55" y="128.12" font-size="5.9" text-anchor="middle" fill="#1A1A1A">GAPDH</text>
<line x1="348.4" x2="350.3" y1="142.6" y2="142.6" stroke="#333333" stroke-width="0.6"/>
<text x="346.8" y="144.81" font-size="4.75" text-anchor="end" fill="#4D4D4D">20,000</text>
<line x1="348.4" x2="350.3" y1="166" y2="166" stroke="#333333" stroke-width="0.6"/>
<text x="346.8" y="168.21" font-size="4.75" text-anchor="end" fill="#4D4D4D">15,000</text>
<line x1="348.4" x2="350.3" y1="189.2" y2="189.2" stroke="#333333" stroke-width="0.6"/>
<text x="346.8" y="191.41" font-size="4.75" text-anchor="end" fill="#4D4D4D">10,000</text>
<line x1="348.4" x2="350.3" y1="212.2" y2="212.2" stroke="#333333" stroke-width="0.6"/>
<text x="346.8" y="214.41" font-size="4.75" text-anchor="end" fill="#4D4D4D">5000</text>
</g>
<g>
<rect x="454.6" y="130.8" width="91.2" height="83.6" fill="#fff"/>
<g clip-path="url(#cp9)" stroke="#EBEBEB" fill="none">
<line x1="454.6" x2="545.8" y1="148.47" y2="148.47" stroke-width="0.35"/>
<line x1="454.6" x2="545.8" y1="166.27" y2="166.27" stroke-width="0.35"/>
<line x1="454.6" x2="545.8" y1="184.07" y2="184.07" stroke-width="0.35"/>
<line x1="454.6" x2="545.8" y1="201.88" y2="201.88" stroke-width="0.35"/>
<line x1="454.6" x2="545.8" y1="139.4" y2="139.4" stroke-width="0.7"/>
<line x1="454.6" x2="545.8" y1="157.4" y2="157.4" stroke-width="0.7"/>
<line x1="454.6" x2="545.8" y1="175.2" y2="175.2" stroke-width="0.7"/>
<line x1="454.6" x2="545.8" y1="193" y2="193" stroke-width="0.7"/>
<line x1="454.6" x2="545.8" y1="210.8" y2="210.8" stroke-width="0.7"/>
<line x1="471.7" x2="471.7" y1="130.8" y2="214.4" stroke-width="0.7"/>
<line x1="500.2" x2="500.2" y1="130.8" y2="214.4" stroke-width="0.7"/>
<line x1="528.7" x2="528.7" y1="130.8" y2="214.4" stroke-width="0.7"/>
</g>
<g clip-path="url(#cp9)">
<line x1="471.7" x2="471.7" y1="202" y2="205.6" stroke="#333333" stroke-width="0.7"/>
<line x1="471.7" x2="471.7" y1="209" y2="210.8" stroke="#333333" stroke-width="0.7"/>
<rect x="461.01" y="205.6" width="21.37" height="3.4" fill="#440154" stroke="#333333" stroke-width="0.5"/>
<line x1="461.01" x2="482.39" y1="207.4" y2="207.4" stroke="#333333" stroke-width="1.05"/>
<line x1="500.2" x2="500.2" y1="199.6" y2="201.6" stroke="#333333" stroke-width="0.7"/>
<line x1="500.2" x2="500.2" y1="207.4" y2="209.6" stroke="#333333" stroke-width="0.7"/>
<rect x="489.51" y="201.6" width="21.37" height="5.8" fill="#21908C" stroke="#333333" stroke-width="0.5"/>
<line x1="489.51" x2="510.89" y1="204.4" y2="204.4" stroke="#333333" stroke-width="1.05"/>
<line x1="528.7" x2="528.7" y1="199" y2="201" stroke="#333333" stroke-width="0.7"/>
<line x1="528.7" x2="528.7" y1="208.4" y2="210" stroke="#333333" stroke-width="0.7"/>
<rect x="518.01" y="201" width="21.37" height="7.4" fill="#FDE725" stroke="#333333" stroke-width="0.5"/>
<line x1="518.01" x2="539.39" y1="202.4" y2="202.4" stroke="#333333" stroke-width="1.05"/>
<circle cx="500.2" cy="135" r="1.35" fill="#1a1a1a"/>
<path d="M467.3 163.9 Q467.8 161.8 470.1 161.8 L498.1 161.8 Q500.4 161.8 500.9 163.9" fill="none" stroke="#1a1a1a" stroke-width="1.05" stroke-linecap="round"/>
<text x="484.45" y="161.5" font-size="8.4" font-weight="bold" letter-spacing="0.7" text-anchor="middle" fill="#222">***</text>
</g>
<rect x="454.6" y="130.8" width="91.2" height="83.6" fill="none" stroke="#333333" stroke-opacity="0.5" stroke-width="1"/>
<rect x="454.6" y="120.3" width="91.2" height="10.5" fill="#D9D9D9" stroke="#333333" stroke-opacity="0.5" stroke-width="1"/>
<text x="500.2" y="128.12" font-size="5.9" text-anchor="middle" fill="#1A1A1A">IDH3A</text>
<line x1="452.7" x2="454.6" y1="139.4" y2="139.4" stroke="#333333" stroke-width="0.6"/>
<text x="451.1" y="141.61" font-size="4.75" text-anchor="end" fill="#4D4D4D">40</text>
<line x1="452.7" x2="454.6" y1="157.4" y2="157.4" stroke="#333333" stroke-width="0.6"/>
<text x="451.1" y="159.61" font-size="4.75" text-anchor="end" fill="#4D4D4D">30</text>
<line x1="452.7" x2="454.6" y1="175.2" y2="175.2" stroke="#333333" stroke-width="0.6"/>
<text x="451.1" y="177.41" font-size="4.75" text-anchor="end" fill="#4D4D4D">20</text>
<line x1="452.7" x2="454.6" y1="193" y2="193" stroke="#333333" stroke-width="0.6"/>
<text x="451.1" y="195.21" font-size="4.75" text-anchor="end" fill="#4D4D4D">10</text>
<line x1="452.7" x2="454.6" y1="210.8" y2="210.8" stroke="#333333" stroke-width="0.6"/>
<text x="451.1" y="213.01" font-size="4.75" text-anchor="end" fill="#4D4D4D">0</text>
</g>
<g>
<rect x="23.1" y="227.1" width="90.7" height="83.6" fill="#fff"/>
<g clip-path="url(#cp10)" stroke="#EBEBEB" fill="none">
<line x1="23.1" x2="113.8" y1="228.33" y2="228.33" stroke-width="0.35"/>
<line x1="23.1" x2="113.8" y1="246.93" y2="246.93" stroke-width="0.35"/>
<line x1="23.1" x2="113.8" y1="265.33" y2="265.33" stroke-width="0.35"/>
<line x1="23.1" x2="113.8" y1="283.93" y2="283.93" stroke-width="0.35"/>
<line x1="23.1" x2="113.8" y1="302.47" y2="302.47" stroke-width="0.35"/>
<line x1="23.1" x2="113.8" y1="237.6" y2="237.6" stroke-width="0.7"/>
<line x1="23.1" x2="113.8" y1="256.2" y2="256.2" stroke-width="0.7"/>
<line x1="23.1" x2="113.8" y1="274.6" y2="274.6" stroke-width="0.7"/>
<line x1="23.1" x2="113.8" y1="293.2" y2="293.2" stroke-width="0.7"/>
<line x1="40.11" x2="40.11" y1="227.1" y2="310.7" stroke-width="0.7"/>
<line x1="68.45" x2="68.45" y1="227.1" y2="310.7" stroke-width="0.7"/>
<line x1="96.79" x2="96.79" y1="227.1" y2="310.7" stroke-width="0.7"/>
</g>
<g clip-path="url(#cp10)">
<line x1="40.11" x2="40.11" y1="295" y2="298.2" stroke="#333333" stroke-width="0.7"/>
<line x1="40.11" x2="40.11" y1="302.4" y2="303.6" stroke="#333333" stroke-width="0.7"/>
<rect x="29.48" y="298.2" width="21.26" height="4.2" fill="#440154" stroke="#333333" stroke-width="0.5"/>
<line x1="29.48" x2="50.74" y1="300.4" y2="300.4" stroke="#333333" stroke-width="1.05"/>
<line x1="68.45" x2="68.45" y1="292" y2="294" stroke="#333333" stroke-width="0.7"/>
<line x1="68.45" x2="68.45" y1="300.4" y2="306.4" stroke="#333333" stroke-width="0.7"/>
<rect x="57.82" y="294" width="21.26" height="6.4" fill="#21908C" stroke="#333333" stroke-width="0.5"/>
<line x1="57.82" x2="79.08" y1="297.4" y2="297.4" stroke="#333333" stroke-width="1.05"/>
<line x1="96.79" x2="96.79" y1="295" y2="298" stroke="#333333" stroke-width="0.7"/>
<line x1="96.79" x2="96.79" y1="303.6" y2="307" stroke="#333333" stroke-width="0.7"/>
<rect x="86.16" y="298" width="21.26" height="5.6" fill="#FDE725" stroke="#333333" stroke-width="0.5"/>
<line x1="86.16" x2="107.42" y1="301.4" y2="301.4" stroke="#333333" stroke-width="1.05"/>
<circle cx="68.45" cy="231.2" r="1.35" fill="#1a1a1a"/>
<path d="M38.8 268.2 Q39.3 266.1 41.6 266.1 L69.4 266.1 Q71.7 266.1 72.2 268.2" fill="none" stroke="#1a1a1a" stroke-width="1.05" stroke-linecap="round"/>
<text x="55.85" y="265.8" font-size="8.4" font-weight="bold" letter-spacing="0.7" text-anchor="middle" fill="#222">***</text>
</g>
<rect x="23.1" y="227.1" width="90.7" height="83.6" fill="none" stroke="#333333" stroke-opacity="0.5" stroke-width="1"/>
<rect x="23.1" y="216.6" width="90.7" height="10.5" fill="#D9D9D9" stroke="#333333" stroke-opacity="0.5" stroke-width="1"/>
<text x="68.45" y="224.42" font-size="5.9" text-anchor="middle" fill="#1A1A1A">IDNK</text>
<line x1="21.2" x2="23.1" y1="237.6" y2="237.6" stroke="#333333" stroke-width="0.6"/>
<text x="19.6" y="239.81" font-size="4.75" text-anchor="end" fill="#4D4D4D">200</text>
<line x1="21.2" x2="23.1" y1="256.2" y2="256.2" stroke="#333333" stroke-width="0.6"/>
<text x="19.6" y="258.41" font-size="4.75" text-anchor="end" fill="#4D4D4D">150</text>
<line x1="21.2" x2="23.1" y1="274.6" y2="274.6" stroke="#333333" stroke-width="0.6"/>
<text x="19.6" y="276.81" font-size="4.75" text-anchor="end" fill="#4D4D4D">100</text>
<line x1="21.2" x2="23.1" y1="293.2" y2="293.2" stroke="#333333" stroke-width="0.6"/>
<text x="19.6" y="295.41" font-size="4.75" text-anchor="end" fill="#4D4D4D">50</text>
</g>
<g>
<rect x="130.5" y="227.1" width="90.7" height="83.6" fill="#fff"/>
<g clip-path="url(#cp11)" stroke="#EBEBEB" fill="none">
<line x1="130.5" x2="221.2" y1="243.25" y2="243.25" stroke-width="0.35"/>
<line x1="130.5" x2="221.2" y1="261.65" y2="261.65" stroke-width="0.35"/>
<line x1="130.5" x2="221.2" y1="280.05" y2="280.05" stroke-width="0.35"/>
<line x1="130.5" x2="221.2" y1="298.25" y2="298.25" stroke-width="0.35"/>
<line x1="130.5" x2="221.2" y1="234.2" y2="234.2" stroke-width="0.7"/>
<line x1="130.5" x2="221.2" y1="252.4" y2="252.4" stroke-width="0.7"/>
<line x1="130.5" x2="221.2" y1="270.8" y2="270.8" stroke-width="0.7"/>
<line x1="130.5" x2="221.2" y1="289.2" y2="289.2" stroke-width="0.7"/>
<line x1="130.5" x2="221.2" y1="307.4" y2="307.4" stroke-width="0.7"/>
<line x1="147.51" x2="147.51" y1="227.1" y2="310.7" stroke-width="0.7"/>
<line x1="175.85" x2="175.85" y1="227.1" y2="310.7" stroke-width="0.7"/>
<line x1="204.19" x2="204.19" y1="227.1" y2="310.7" stroke-width="0.7"/>
</g>
<g clip-path="url(#cp11)">
<line x1="147.51" x2="147.51" y1="231" y2="255.2" stroke="#333333" stroke-width="0.7"/>
<line x1="147.51" x2="147.51" y1="296.6" y2="302" stroke="#333333" stroke-width="0.7"/>
<rect x="136.88" y="255.2" width="21.26" height="41.4" fill="#440154" stroke="#333333" stroke-width="0.5"/>
<line x1="136.88" x2="158.14" y1="271.4" y2="271.4" stroke="#333333" stroke-width="1.05"/>
<line x1="175.85" x2="175.85" y1="268.4" y2="284.2" stroke="#333333" stroke-width="0.7"/>
<line x1="175.85" x2="175.85" y1="303.4" y2="307.4" stroke="#333333" stroke-width="0.7"/>
<rect x="165.22" y="284.2" width="21.26" height="19.2" fill="#21908C" stroke="#333333" stroke-width="0.5"/>
<line x1="165.22" x2="186.48" y1="298.6" y2="298.6" stroke="#333333" stroke-width="1.05"/>
<line x1="204.19" x2="204.19" y1="265.2" y2="286.4" stroke="#333333" stroke-width="0.7"/>
<line x1="204.19" x2="204.19" y1="301.4" y2="303.3" stroke="#333333" stroke-width="0.7"/>
<rect x="193.56" y="286.4" width="21.26" height="15" fill="#FDE725" stroke="#333333" stroke-width="0.5"/>
<line x1="193.56" x2="214.82" y1="295.2" y2="295.2" stroke="#333333" stroke-width="1.05"/>
<circle cx="204.19" cy="263.8" r="1.35" fill="#1a1a1a"/>
<path d="M143.2 242.8 Q143.7 240.7 146 240.7 L174 240.7 Q176.3 240.7 176.8 242.8" fill="none" stroke="#1a1a1a" stroke-width="1.05" stroke-linecap="round"/>
<text x="160.15" y="240.4" font-size="8.4" font-weight="bold" letter-spacing="0.7" text-anchor="middle" fill="#222">***</text>
</g>
<rect x="130.5" y="227.1" width="90.7" height="83.6" fill="none" stroke="#333333" stroke-opacity="0.5" stroke-width="1"/>
<rect x="130.5" y="216.6" width="90.7" height="10.5" fill="#D9D9D9" stroke="#333333" stroke-opacity="0.5" stroke-width="1"/>
<text x="175.85" y="224.42" font-size="5.9" text-anchor="middle" fill="#1A1A1A">IRS2</text>
<line x1="128.6" x2="130.5" y1="234.2" y2="234.2" stroke="#333333" stroke-width="0.6"/>
<text x="127" y="236.41" font-size="4.75" text-anchor="end" fill="#4D4D4D">200</text>
<line x1="128.6" x2="130.5" y1="252.4" y2="252.4" stroke="#333333" stroke-width="0.6"/>
<text x="127" y="254.61" font-size="4.75" text-anchor="end" fill="#4D4D4D">150</text>
<line x1="128.6" x2="130.5" y1="270.8" y2="270.8" stroke="#333333" stroke-width="0.6"/>
<text x="127" y="273.01" font-size="4.75" text-anchor="end" fill="#4D4D4D">100</text>
<line x1="128.6" x2="130.5" y1="289.2" y2="289.2" stroke="#333333" stroke-width="0.6"/>
<text x="127" y="291.41" font-size="4.75" text-anchor="end" fill="#4D4D4D">50</text>
<line x1="128.6" x2="130.5" y1="307.4" y2="307.4" stroke="#333333" stroke-width="0.6"/>
<text x="127" y="309.61" font-size="4.75" text-anchor="end" fill="#4D4D4D">0</text>
</g>
<g>
<rect x="240.1" y="227.1" width="91.1" height="83.6" fill="#fff"/>
<g clip-path="url(#cp12)" stroke="#EBEBEB" fill="none">
<line x1="240.1" x2="331.2" y1="239.78" y2="239.78" stroke-width="0.35"/>
<line x1="240.1" x2="331.2" y1="258.98" y2="258.98" stroke-width="0.35"/>
<line x1="240.1" x2="331.2" y1="278.18" y2="278.18" stroke-width="0.35"/>
<line x1="240.1" x2="331.2" y1="297.38" y2="297.38" stroke-width="0.35"/>
<line x1="240.1" x2="331.2" y1="230" y2="230" stroke-width="0.7"/>
<line x1="240.1" x2="331.2" y1="249.4" y2="249.4" stroke-width="0.7"/>
<line x1="240.1" x2="331.2" y1="268.6" y2="268.6" stroke-width="0.7"/>
<line x1="240.1" x2="331.2" y1="287.8" y2="287.8" stroke-width="0.7"/>
<line x1="240.1" x2="331.2" y1="307" y2="307" stroke-width="0.7"/>
<line x1="257.18" x2="257.18" y1="227.1" y2="310.7" stroke-width="0.7"/>
<line x1="285.65" x2="285.65" y1="227.1" y2="310.7" stroke-width="0.7"/>
<line x1="314.12" x2="314.12" y1="227.1" y2="310.7" stroke-width="0.7"/>
</g>
<g clip-path="url(#cp12)">
<line x1="257.18" x2="257.18" y1="303.4" y2="303.4" stroke="#333333" stroke-width="0.7"/>
<line x1="257.18" x2="257.18" y1="307" y2="307" stroke="#333333" stroke-width="0.7"/>
<rect x="246.51" y="303.4" width="21.35" height="3.6" fill="#440154" stroke="#333333" stroke-width="0.5"/>
<line x1="246.51" x2="267.86" y1="306.6" y2="306.6" stroke="#333333" stroke-width="1.05"/>
<line x1="285.65" x2="285.65" y1="231" y2="271.4" stroke="#333333" stroke-width="0.7"/>
<line x1="285.65" x2="285.65" y1="301" y2="307" stroke="#333333" stroke-width="0.7"/>
<rect x="274.97" y="271.4" width="21.35" height="29.6" fill="#21908C" stroke="#333333" stroke-width="0.5"/>
<line x1="274.97" x2="296.33" y1="295" y2="295" stroke="#333333" stroke-width="1.05"/>
<line x1="314.12" x2="314.12" y1="272" y2="290" stroke="#333333" stroke-width="0.7"/>
<line x1="314.12" x2="314.12" y1="302.4" y2="307" stroke="#333333" stroke-width="0.7"/>
<rect x="303.44" y="290" width="21.35" height="12.4" fill="#FDE725" stroke="#333333" stroke-width="0.5"/>
<line x1="303.44" x2="324.79" y1="298" y2="298" stroke="#333333" stroke-width="1.05"/>
<circle cx="257.18" cy="295.6" r="1.35" fill="#1a1a1a"/>
<circle cx="257.18" cy="297.6" r="1.35" fill="#1a1a1a"/>
<path d="M254.8 243.1 Q255.3 241 257.6 241 L285.9 241 Q288.2 241 288.7 243.1" fill="none" stroke="#1a1a1a" stroke-width="1.05" stroke-linecap="round"/>
<text x="271.85" y="240.7" font-size="8.4" font-weight="bold" letter-spacing="0.7" text-anchor="middle" fill="#222">***</text>
</g>
<rect x="240.1" y="227.1" width="91.1" height="83.6" fill="none" stroke="#333333" stroke-opacity="0.5" stroke-width="1"/>
<rect x="240.1" y="216.6" width="91.1" height="10.5" fill="#D9D9D9" stroke="#333333" stroke-opacity="0.5" stroke-width="1"/>
<text x="285.65" y="224.42" font-size="5.9" text-anchor="middle" fill="#1A1A1A">MT-CO1</text>
<line x1="238.2" x2="240.1" y1="230" y2="230" stroke="#333333" stroke-width="0.6"/>
<text x="236.6" y="232.21" font-size="4.75" text-anchor="end" fill="#4D4D4D">20</text>
<line x1="238.2" x2="240.1" y1="249.4" y2="249.4" stroke="#333333" stroke-width="0.6"/>
<text x="236.6" y="251.61" font-size="4.75" text-anchor="end" fill="#4D4D4D">15</text>
<line x1="238.2" x2="240.1" y1="268.6" y2="268.6" stroke="#333333" stroke-width="0.6"/>
<text x="236.6" y="270.81" font-size="4.75" text-anchor="end" fill="#4D4D4D">10</text>
<line x1="238.2" x2="240.1" y1="287.8" y2="287.8" stroke="#333333" stroke-width="0.6"/>
<text x="236.6" y="290.01" font-size="4.75" text-anchor="end" fill="#4D4D4D">5</text>
<line x1="238.2" x2="240.1" y1="307" y2="307" stroke="#333333" stroke-width="0.6"/>
<text x="236.6" y="309.21" font-size="4.75" text-anchor="end" fill="#4D4D4D">0</text>
</g>
<g>
<rect x="350.3" y="227.1" width="90.5" height="83.6" fill="#fff"/>
<g clip-path="url(#cp13)" stroke="#EBEBEB" fill="none">
<line x1="350.3" x2="440.8" y1="241.05" y2="241.05" stroke-width="0.35"/>
<line x1="350.3" x2="440.8" y1="257.05" y2="257.05" stroke-width="0.35"/>
<line x1="350.3" x2="440.8" y1="272.85" y2="272.85" stroke-width="0.35"/>
<line x1="350.3" x2="440.8" y1="288.65" y2="288.65" stroke-width="0.35"/>
<line x1="350.3" x2="440.8" y1="304.55" y2="304.55" stroke-width="0.35"/>
<line x1="350.3" x2="440.8" y1="233" y2="233" stroke-width="0.7"/>
<line x1="350.3" x2="440.8" y1="249" y2="249" stroke-width="0.7"/>
<line x1="350.3" x2="440.8" y1="265" y2="265" stroke-width="0.7"/>
<line x1="350.3" x2="440.8" y1="280.8" y2="280.8" stroke-width="0.7"/>
<line x1="350.3" x2="440.8" y1="296.6" y2="296.6" stroke-width="0.7"/>
<line x1="367.27" x2="367.27" y1="227.1" y2="310.7" stroke-width="0.7"/>
<line x1="395.55" x2="395.55" y1="227.1" y2="310.7" stroke-width="0.7"/>
<line x1="423.83" x2="423.83" y1="227.1" y2="310.7" stroke-width="0.7"/>
</g>
<g clip-path="url(#cp13)">
<line x1="367.27" x2="367.27" y1="253" y2="278" stroke="#333333" stroke-width="0.7"/>
<line x1="367.27" x2="367.27" y1="299.4" y2="307" stroke="#333333" stroke-width="0.7"/>
<rect x="356.66" y="278" width="21.21" height="21.4" fill="#440154" stroke="#333333" stroke-width="0.5"/>
<line x1="356.66" x2="377.87" y1="282" y2="282" stroke="#333333" stroke-width="1.05"/>
<line x1="395.55" x2="395.55" y1="284" y2="286" stroke="#333333" stroke-width="0.7"/>
<line x1="395.55" x2="395.55" y1="295" y2="296.6" stroke="#333333" stroke-width="0.7"/>
<rect x="384.94" y="286" width="21.21" height="9" fill="#21908C" stroke="#333333" stroke-width="0.5"/>
<line x1="384.94" x2="406.16" y1="289.4" y2="289.4" stroke="#333333" stroke-width="1.05"/>
<line x1="423.83" x2="423.83" y1="231" y2="250.4" stroke="#333333" stroke-width="0.7"/>
<line x1="423.83" x2="423.83" y1="281.4" y2="296.6" stroke="#333333" stroke-width="0.7"/>
<rect x="413.23" y="250.4" width="21.21" height="31" fill="#FDE725" stroke="#333333" stroke-width="0.5"/>
<line x1="413.23" x2="434.44" y1="268.6" y2="268.6" stroke="#333333" stroke-width="1.05"/>
<circle cx="395.55" cy="262" r="1.35" fill="#1a1a1a"/>
<path d="M390 243.2 Q390.5 241.1 392.8 241.1 L421.2 241.1 Q423.5 241.1 424 243.2" fill="none" stroke="#1a1a1a" stroke-width="1.05" stroke-linecap="round"/>
<text x="407.05" y="240.8" font-size="8.4" font-weight="bold" letter-spacing="0.7" text-anchor="middle" fill="#222">***</text>
</g>
<rect x="350.3" y="227.1" width="90.5" height="83.6" fill="none" stroke="#333333" stroke-opacity="0.5" stroke-width="1"/>
<rect x="350.3" y="216.6" width="90.5" height="10.5" fill="#D9D9D9" stroke="#333333" stroke-opacity="0.5" stroke-width="1"/>
<text x="395.55" y="224.42" font-size="5.9" text-anchor="middle" fill="#1A1A1A">MYC</text>
<line x1="348.4" x2="350.3" y1="233" y2="233" stroke="#333333" stroke-width="0.6"/>
<text x="346.8" y="235.21" font-size="4.75" text-anchor="end" fill="#4D4D4D">1250</text>
<line x1="348.4" x2="350.3" y1="249" y2="249" stroke="#333333" stroke-width="0.6"/>
<text x="346.8" y="251.21" font-size="4.75" text-anchor="end" fill="#4D4D4D">1000</text>
<line x1="348.4" x2="350.3" y1="265" y2="265" stroke="#333333" stroke-width="0.6"/>
<text x="346.8" y="267.21" font-size="4.75" text-anchor="end" fill="#4D4D4D">750</text>
<line x1="348.4" x2="350.3" y1="280.8" y2="280.8" stroke="#333333" stroke-width="0.6"/>
<text x="346.8" y="283.01" font-size="4.75" text-anchor="end" fill="#4D4D4D">500</text>
<line x1="348.4" x2="350.3" y1="296.6" y2="296.6" stroke="#333333" stroke-width="0.6"/>
<text x="346.8" y="298.81" font-size="4.75" text-anchor="end" fill="#4D4D4D">250</text>
</g>
<g>
<rect x="454.6" y="227.1" width="91.2" height="83.6" fill="#fff"/>
<g clip-path="url(#cp14)" stroke="#EBEBEB" fill="none">
<line x1="454.6" x2="545.8" y1="236.02" y2="236.02" stroke-width="0.35"/>
<line x1="454.6" x2="545.8" y1="251.62" y2="251.62" stroke-width="0.35"/>
<line x1="454.6" x2="545.8" y1="267.02" y2="267.02" stroke-width="0.35"/>
<line x1="454.6" x2="545.8" y1="282.62" y2="282.62" stroke-width="0.35"/>
<line x1="454.6" x2="545.8" y1="298.22" y2="298.22" stroke-width="0.35"/>
<line x1="454.6" x2="545.8" y1="228.2" y2="228.2" stroke-width="0.7"/>
<line x1="454.6" x2="545.8" y1="243.8" y2="243.8" stroke-width="0.7"/>
<line x1="454.6" x2="545.8" y1="259.4" y2="259.4" stroke-width="0.7"/>
<line x1="454.6" x2="545.8" y1="274.8" y2="274.8" stroke-width="0.7"/>
<line x1="454.6" x2="545.8" y1="290.4" y2="290.4" stroke-width="0.7"/>
<line x1="454.6" x2="545.8" y1="306" y2="306" stroke-width="0.7"/>
<line x1="471.7" x2="471.7" y1="227.1" y2="310.7" stroke-width="0.7"/>
<line x1="500.2" x2="500.2" y1="227.1" y2="310.7" stroke-width="0.7"/>
<line x1="528.7" x2="528.7" y1="227.1" y2="310.7" stroke-width="0.7"/>
</g>
<g clip-path="url(#cp14)">
<line x1="471.7" x2="471.7" y1="284.7" y2="295.4" stroke="#333333" stroke-width="0.7"/>
<line x1="471.7" x2="471.7" y1="302.2" y2="306.8" stroke="#333333" stroke-width="0.7"/>
<rect x="461.01" y="295.4" width="21.37" height="6.8" fill="#440154" stroke="#333333" stroke-width="0.5"/>
<line x1="461.01" x2="482.39" y1="298.9" y2="298.9" stroke="#333333" stroke-width="1.05"/>
<line x1="500.2" x2="500.2" y1="231" y2="262.6" stroke="#333333" stroke-width="0.7"/>
<line x1="500.2" x2="500.2" y1="292.6" y2="295.4" stroke="#333333" stroke-width="0.7"/>
<rect x="489.51" y="262.6" width="21.37" height="30" fill="#21908C" stroke="#333333" stroke-width="0.5"/>
<line x1="489.51" x2="510.89" y1="287.6" y2="287.6" stroke="#333333" stroke-width="1.05"/>
<line x1="528.7" x2="528.7" y1="266.6" y2="279.4" stroke="#333333" stroke-width="0.7"/>
<line x1="528.7" x2="528.7" y1="294.6" y2="304" stroke="#333333" stroke-width="0.7"/>
<rect x="518.01" y="279.4" width="21.37" height="15.2" fill="#FDE725" stroke="#333333" stroke-width="0.5"/>
<line x1="518.01" x2="539.39" y1="286" y2="286" stroke="#333333" stroke-width="1.05"/>
<circle cx="471.7" cy="283" r="1.35" fill="#1a1a1a"/>
<path d="M469.3 243.1 Q469.8 241 472.1 241 L499.8 241 Q502.1 241 502.6 243.1" fill="none" stroke="#1a1a1a" stroke-width="1.05" stroke-linecap="round"/>
<text x="486.45" y="240.7" font-size="8.4" font-weight="bold" letter-spacing="0.7" text-anchor="middle" fill="#222">***</text>
</g>
<rect x="454.6" y="227.1" width="91.2" height="83.6" fill="none" stroke="#333333" stroke-opacity="0.5" stroke-width="1"/>
<rect x="454.6" y="216.6" width="91.2" height="10.5" fill="#D9D9D9" stroke="#333333" stroke-opacity="0.5" stroke-width="1"/>
<text x="500.2" y="224.42" font-size="5.9" text-anchor="middle" fill="#1A1A1A">NDUFA12</text>
<line x1="452.7" x2="454.6" y1="228.2" y2="228.2" stroke="#333333" stroke-width="0.6"/>
<text x="451.1" y="230.41" font-size="4.75" text-anchor="end" fill="#4D4D4D">700</text>
<line x1="452.7" x2="454.6" y1="243.8" y2="243.8" stroke="#333333" stroke-width="0.6"/>
<text x="451.1" y="246.01" font-size="4.75" text-anchor="end" fill="#4D4D4D">600</text>
<line x1="452.7" x2="454.6" y1="259.4" y2="259.4" stroke="#333333" stroke-width="0.6"/>
<text x="451.1" y="261.61" font-size="4.75" text-anchor="end" fill="#4D4D4D">500</text>
<line x1="452.7" x2="454.6" y1="274.8" y2="274.8" stroke="#333333" stroke-width="0.6"/>
<text x="451.1" y="277.01" font-size="4.75" text-anchor="end" fill="#4D4D4D">400</text>
<line x1="452.7" x2="454.6" y1="290.4" y2="290.4" stroke="#333333" stroke-width="0.6"/>
<text x="451.1" y="292.61" font-size="4.75" text-anchor="end" fill="#4D4D4D">300</text>
<line x1="452.7" x2="454.6" y1="306" y2="306" stroke="#333333" stroke-width="0.6"/>
<text x="451.1" y="308.21" font-size="4.75" text-anchor="end" fill="#4D4D4D">200</text>
</g>
<g>
<rect x="23.1" y="323.4" width="90.7" height="83.6" fill="#fff"/>
<g clip-path="url(#cp15)" stroke="#EBEBEB" fill="none">
<line x1="23.1" x2="113.8" y1="331.83" y2="331.83" stroke-width="0.35"/>
<line x1="23.1" x2="113.8" y1="349.43" y2="349.43" stroke-width="0.35"/>
<line x1="23.1" x2="113.8" y1="366.83" y2="366.83" stroke-width="0.35"/>
<line x1="23.1" x2="113.8" y1="384.43" y2="384.43" stroke-width="0.35"/>
<line x1="23.1" x2="113.8" y1="401.97" y2="401.97" stroke-width="0.35"/>
<line x1="23.1" x2="113.8" y1="340.6" y2="340.6" stroke-width="0.7"/>
<line x1="23.1" x2="113.8" y1="358.2" y2="358.2" stroke-width="0.7"/>
<line x1="23.1" x2="113.8" y1="375.6" y2="375.6" stroke-width="0.7"/>
<line x1="23.1" x2="113.8" y1="393.2" y2="393.2" stroke-width="0.7"/>
<line x1="40.11" x2="40.11" y1="323.4" y2="407" stroke-width="0.7"/>
<line x1="68.45" x2="68.45" y1="323.4" y2="407" stroke-width="0.7"/>
<line x1="96.79" x2="96.79" y1="323.4" y2="407" stroke-width="0.7"/>
</g>
<g clip-path="url(#cp15)">
<line x1="40.11" x2="40.11" y1="384" y2="388.4" stroke="#333333" stroke-width="0.7"/>
<line x1="40.11" x2="40.11" y1="391.6" y2="392" stroke="#333333" stroke-width="0.7"/>
<rect x="29.48" y="388.4" width="21.26" height="3.2" fill="#440154" stroke="#333333" stroke-width="0.5"/>
<line x1="29.48" x2="50.74" y1="390" y2="390" stroke="#333333" stroke-width="1.05"/>
<line x1="68.45" x2="68.45" y1="327.4" y2="353" stroke="#333333" stroke-width="0.7"/>
<line x1="68.45" x2="68.45" y1="385.6" y2="394" stroke="#333333" stroke-width="0.7"/>
<rect x="57.82" y="353" width="21.26" height="32.6" fill="#21908C" stroke="#333333" stroke-width="0.5"/>
<line x1="57.82" x2="79.08" y1="373.8" y2="373.8" stroke="#333333" stroke-width="1.05"/>
<line x1="96.79" x2="96.79" y1="379" y2="381" stroke="#333333" stroke-width="0.7"/>
<line x1="96.79" x2="96.79" y1="392.2" y2="403" stroke="#333333" stroke-width="0.7"/>
<rect x="86.16" y="381" width="21.26" height="11.2" fill="#FDE725" stroke="#333333" stroke-width="0.5"/>
<line x1="86.16" x2="107.42" y1="384" y2="384" stroke="#333333" stroke-width="1.05"/>
<circle cx="40.11" cy="378.6" r="1.35" fill="#1a1a1a"/>
<circle cx="40.11" cy="397.6" r="1.35" fill="#1a1a1a"/>
<circle cx="40.11" cy="402" r="1.35" fill="#1a1a1a"/>
<path d="M37.1 340.4 Q37.6 338.3 39.9 338.3 L67.8 338.3 Q70.1 338.3 70.6 340.4" fill="none" stroke="#1a1a1a" stroke-width="1.05" stroke-linecap="round"/>
<text x="54.25" y="338" font-size="8.4" font-weight="bold" letter-spacing="0.7" text-anchor="middle" fill="#222">***</text>
</g>
<rect x="23.1" y="323.4" width="90.7" height="83.6" fill="none" stroke="#333333" stroke-opacity="0.5" stroke-width="1"/>
<rect x="23.1" y="312.9" width="90.7" height="10.5" fill="#D9D9D9" stroke="#333333" stroke-opacity="0.5" stroke-width="1"/>
<text x="68.45" y="320.72" font-size="5.9" text-anchor="middle" fill="#1A1A1A">NDUFB10</text>
<line x1="21.2" x2="23.1" y1="340.6" y2="340.6" stroke="#333333" stroke-width="0.6"/>
<text x="19.6" y="342.81" font-size="4.75" text-anchor="end" fill="#4D4D4D">400</text>
<line x1="21.2" x2="23.1" y1="358.2" y2="358.2" stroke="#333333" stroke-width="0.6"/>
<text x="19.6" y="360.41" font-size="4.75" text-anchor="end" fill="#4D4D4D">300</text>
<line x1="21.2" x2="23.1" y1="375.6" y2="375.6" stroke="#333333" stroke-width="0.6"/>
<text x="19.6" y="377.81" font-size="4.75" text-anchor="end" fill="#4D4D4D">200</text>
<line x1="21.2" x2="23.1" y1="393.2" y2="393.2" stroke="#333333" stroke-width="0.6"/>
<text x="19.6" y="395.41" font-size="4.75" text-anchor="end" fill="#4D4D4D">100</text>
</g>
<g>
<rect x="130.5" y="323.4" width="90.7" height="83.6" fill="#fff"/>
<g clip-path="url(#cp16)" stroke="#EBEBEB" fill="none">
<line x1="130.5" x2="221.2" y1="336.9" y2="336.9" stroke-width="0.35"/>
<line x1="130.5" x2="221.2" y1="358.7" y2="358.7" stroke-width="0.35"/>
<line x1="130.5" x2="221.2" y1="380.5" y2="380.5" stroke-width="0.35"/>
<line x1="130.5" x2="221.2" y1="402.3" y2="402.3" stroke-width="0.35"/>
<line x1="130.5" x2="221.2" y1="326" y2="326" stroke-width="0.7"/>
<line x1="130.5" x2="221.2" y1="347.8" y2="347.8" stroke-width="0.7"/>
<line x1="130.5" x2="221.2" y1="369.6" y2="369.6" stroke-width="0.7"/>
<line x1="130.5" x2="221.2" y1="391.4" y2="391.4" stroke-width="0.7"/>
<line x1="147.51" x2="147.51" y1="323.4" y2="407" stroke-width="0.7"/>
<line x1="175.85" x2="175.85" y1="323.4" y2="407" stroke-width="0.7"/>
<line x1="204.19" x2="204.19" y1="323.4" y2="407" stroke-width="0.7"/>
</g>
<g clip-path="url(#cp16)">
<line x1="147.51" x2="147.51" y1="394" y2="397.4" stroke="#333333" stroke-width="0.7"/>
<line x1="147.51" x2="147.51" y1="402" y2="403" stroke="#333333" stroke-width="0.7"/>
<rect x="136.88" y="397.4" width="21.26" height="4.6" fill="#440154" stroke="#333333" stroke-width="0.5"/>
<line x1="136.88" x2="158.14" y1="400" y2="400" stroke="#333333" stroke-width="1.05"/>
<line x1="175.85" x2="175.85" y1="353" y2="380.6" stroke="#333333" stroke-width="0.7"/>
<line x1="175.85" x2="175.85" y1="400.4" y2="402" stroke="#333333" stroke-width="0.7"/>
<rect x="165.22" y="380.6" width="21.26" height="19.8" fill="#21908C" stroke="#333333" stroke-width="0.5"/>
<line x1="165.22" x2="186.48" y1="390.8" y2="390.8" stroke="#333333" stroke-width="1.05"/>
<line x1="204.19" x2="204.19" y1="393" y2="396.2" stroke="#333333" stroke-width="0.7"/>
<line x1="204.19" x2="204.19" y1="399.2" y2="401" stroke="#333333" stroke-width="0.7"/>
<rect x="193.56" y="396.2" width="21.26" height="3" fill="#FDE725" stroke="#333333" stroke-width="0.5"/>
<line x1="193.56" x2="214.82" y1="397.6" y2="397.6" stroke="#333333" stroke-width="1.05"/>
<circle cx="147.51" cy="390.4" r="1.35" fill="#1a1a1a"/>
<circle cx="175.85" cy="327.4" r="1.35" fill="#1a1a1a"/>
<circle cx="204.19" cy="381.4" r="1.35" fill="#1a1a1a"/>
<path d="M143 340.4 Q143.5 338.3 145.8 338.3 L174 338.3 Q176.3 338.3 176.8 340.4" fill="none" stroke="#1a1a1a" stroke-width="1.05" stroke-linecap="round"/>
<text x="160.15" y="338" font-size="8.4" font-weight="bold" letter-spacing="0.7" text-anchor="middle" fill="#222">***</text>
</g>
<rect x="130.5" y="323.4" width="90.7" height="83.6" fill="none" stroke="#333333" stroke-opacity="0.5" stroke-width="1"/>
<rect x="130.5" y="312.9" width="90.7" height="10.5" fill="#D9D9D9" stroke="#333333" stroke-opacity="0.5" stroke-width="1"/>
<text x="175.85" y="320.72" font-size="5.9" text-anchor="middle" fill="#1A1A1A">NDUFB11</text>
<line x1="128.6" x2="130.5" y1="326" y2="326" stroke="#333333" stroke-width="0.6"/>
<text x="127" y="328.21" font-size="4.75" text-anchor="end" fill="#4D4D4D">2000</text>
<line x1="128.6" x2="130.5" y1="347.8" y2="347.8" stroke="#333333" stroke-width="0.6"/>
<text x="127" y="350.01" font-size="4.75" text-anchor="end" fill="#4D4D4D">1500</text>
<line x1="128.6" x2="130.5" y1="369.6" y2="369.6" stroke="#333333" stroke-width="0.6"/>
<text x="127" y="371.81" font-size="4.75" text-anchor="end" fill="#4D4D4D">1000</text>
<line x1="128.6" x2="130.5" y1="391.4" y2="391.4" stroke="#333333" stroke-width="0.6"/>
<text x="127" y="393.61" font-size="4.75" text-anchor="end" fill="#4D4D4D">500</text>
</g>
<g>
<rect x="240.1" y="323.4" width="91.1" height="83.6" fill="#fff"/>
<g clip-path="url(#cp17)" stroke="#EBEBEB" fill="none">
<line x1="240.1" x2="331.2" y1="333.9" y2="333.9" stroke-width="0.35"/>
<line x1="240.1" x2="331.2" y1="356.9" y2="356.9" stroke-width="0.35"/>
<line x1="240.1" x2="331.2" y1="379.9" y2="379.9" stroke-width="0.35"/>
<line x1="240.1" x2="331.2" y1="402.9" y2="402.9" stroke-width="0.35"/>
<line x1="240.1" x2="331.2" y1="345.4" y2="345.4" stroke-width="0.7"/>
<line x1="240.1" x2="331.2" y1="368.4" y2="368.4" stroke-width="0.7"/>
<line x1="240.1" x2="331.2" y1="391.4" y2="391.4" stroke-width="0.7"/>
<line x1="257.18" x2="257.18" y1="323.4" y2="407" stroke-width="0.7"/>
<line x1="285.65" x2="285.65" y1="323.4" y2="407" stroke-width="0.7"/>
<line x1="314.12" x2="314.12" y1="323.4" y2="407" stroke-width="0.7"/>
</g>
<g clip-path="url(#cp17)">
<line x1="257.18" x2="257.18" y1="377.6" y2="380" stroke="#333333" stroke-width="0.7"/>
<line x1="257.18" x2="257.18" y1="389.6" y2="403.4" stroke="#333333" stroke-width="0.7"/>
<rect x="246.51" y="380" width="21.35" height="9.6" fill="#440154" stroke="#333333" stroke-width="0.5"/>
<line x1="246.51" x2="267.86" y1="386.6" y2="386.6" stroke="#333333" stroke-width="1.05"/>
<line x1="285.65" x2="285.65" y1="369" y2="372" stroke="#333333" stroke-width="0.7"/>
<line x1="285.65" x2="285.65" y1="378.4" y2="386" stroke="#333333" stroke-width="0.7"/>
<rect x="274.97" y="372" width="21.35" height="6.4" fill="#21908C" stroke="#333333" stroke-width="0.5"/>
<line x1="274.97" x2="296.33" y1="375.2" y2="375.2" stroke="#333333" stroke-width="1.05"/>
<line x1="314.12" x2="314.12" y1="374" y2="382.4" stroke="#333333" stroke-width="0.7"/>
<line x1="314.12" x2="314.12" y1="388.6" y2="392.4" stroke="#333333" stroke-width="0.7"/>
<rect x="303.44" y="382.4" width="21.35" height="6.2" fill="#FDE725" stroke="#333333" stroke-width="0.5"/>
<line x1="303.44" x2="324.79" y1="386.2" y2="386.2" stroke="#333333" stroke-width="1.05"/>
<circle cx="285.65" cy="327.4" r="1.35" fill="#1a1a1a"/>
<circle cx="314.12" cy="367.8" r="1.35" fill="#1a1a1a"/>
<circle cx="314.12" cy="398.4" r="1.35" fill="#1a1a1a"/>
<path d="M251.3 340.3 Q251.8 338.2 254.1 338.2 L282.1 338.2 Q284.4 338.2 284.9 340.3" fill="none" stroke="#1a1a1a" stroke-width="1.05" stroke-linecap="round"/>
<text x="268.35" y="337.9" font-size="8.4" font-weight="bold" letter-spacing="0.7" text-anchor="middle" fill="#222">***</text>
</g>
<rect x="240.1" y="323.4" width="91.1" height="83.6" fill="none" stroke="#333333" stroke-opacity="0.5" stroke-width="1"/>
<rect x="240.1" y="312.9" width="91.1" height="10.5" fill="#D9D9D9" stroke="#333333" stroke-opacity="0.5" stroke-width="1"/>
<text x="285.65" y="320.72" font-size="5.9" text-anchor="middle" fill="#1A1A1A">NDUFS2</text>
<line x1="238.2" x2="240.1" y1="345.4" y2="345.4" stroke="#333333" stroke-width="0.6"/>
<text x="236.6" y="347.61" font-size="4.75" text-anchor="end" fill="#4D4D4D">600</text>
<line x1="238.2" x2="240.1" y1="368.4" y2="368.4" stroke="#333333" stroke-width="0.6"/>
<text x="236.6" y="370.61" font-size="4.75" text-anchor="end" fill="#4D4D4D">400</text>
<line x1="238.2" x2="240.1" y1="391.4" y2="391.4" stroke="#333333" stroke-width="0.6"/>
<text x="236.6" y="393.61" font-size="4.75" text-anchor="end" fill="#4D4D4D">200</text>
</g>
<g>
<rect x="350.3" y="323.4" width="90.5" height="83.6" fill="#fff"/>
<g clip-path="url(#cp18)" stroke="#EBEBEB" fill="none">
<line x1="350.3" x2="440.8" y1="331.8" y2="331.8" stroke-width="0.35"/>
<line x1="350.3" x2="440.8" y1="349" y2="349" stroke-width="0.35"/>
<line x1="350.3" x2="440.8" y1="366.2" y2="366.2" stroke-width="0.35"/>
<line x1="350.3" x2="440.8" y1="383.4" y2="383.4" stroke-width="0.35"/>
<line x1="350.3" x2="440.8" y1="400.6" y2="400.6" stroke-width="0.35"/>
<line x1="350.3" x2="440.8" y1="340.4" y2="340.4" stroke-width="0.7"/>
<line x1="350.3" x2="440.8" y1="357.6" y2="357.6" stroke-width="0.7"/>
<line x1="350.3" x2="440.8" y1="374.8" y2="374.8" stroke-width="0.7"/>
<line x1="350.3" x2="440.8" y1="392" y2="392" stroke-width="0.7"/>
<line x1="367.27" x2="367.27" y1="323.4" y2="407" stroke-width="0.7"/>
<line x1="395.55" x2="395.55" y1="323.4" y2="407" stroke-width="0.7"/>
<line x1="423.83" x2="423.83" y1="323.4" y2="407" stroke-width="0.7"/>
</g>
<g clip-path="url(#cp18)">
<line x1="367.27" x2="367.27" y1="371" y2="380" stroke="#333333" stroke-width="0.7"/>
<line x1="367.27" x2="367.27" y1="391.4" y2="403.4" stroke="#333333" stroke-width="0.7"/>
<rect x="356.66" y="380" width="21.21" height="11.4" fill="#440154" stroke="#333333" stroke-width="0.5"/>
<line x1="356.66" x2="377.87" y1="382" y2="382" stroke="#333333" stroke-width="1.05"/>
<line x1="395.55" x2="395.55" y1="327.4" y2="337" stroke="#333333" stroke-width="0.7"/>
<line x1="395.55" x2="395.55" y1="381.4" y2="391" stroke="#333333" stroke-width="0.7"/>
<rect x="384.94" y="337" width="21.21" height="44.4" fill="#21908C" stroke="#333333" stroke-width="0.5"/>
<line x1="384.94" x2="406.16" y1="363.6" y2="363.6" stroke="#333333" stroke-width="1.05"/>
<line x1="423.83" x2="423.83" y1="350.6" y2="363.6" stroke="#333333" stroke-width="0.7"/>
<line x1="423.83" x2="423.83" y1="375" y2="384" stroke="#333333" stroke-width="0.7"/>
<rect x="413.23" y="363.6" width="21.21" height="11.4" fill="#FDE725" stroke="#333333" stroke-width="0.5"/>
<line x1="413.23" x2="434.44" y1="369.6" y2="369.6" stroke="#333333" stroke-width="1.05"/>
<path d="M361.1 331.7 Q361.6 329.6 363.9 329.6 L392.1 329.6 Q394.4 329.6 394.9 331.7" fill="none" stroke="#1a1a1a" stroke-width="1.05" stroke-linecap="round"/>
<text x="378.25" y="329.3" font-size="8.4" font-weight="bold" letter-spacing="0.7" text-anchor="middle" fill="#222">***</text>
</g>
<rect x="350.3" y="323.4" width="90.5" height="83.6" fill="none" stroke="#333333" stroke-opacity="0.5" stroke-width="1"/>
<rect x="350.3" y="312.9" width="90.5" height="10.5" fill="#D9D9D9" stroke="#333333" stroke-opacity="0.5" stroke-width="1"/>
<text x="395.55" y="320.72" font-size="5.9" text-anchor="middle" fill="#1A1A1A">OGDH</text>
<line x1="348.4" x2="350.3" y1="340.4" y2="340.4" stroke="#333333" stroke-width="0.6"/>
<text x="346.8" y="342.61" font-size="4.75" text-anchor="end" fill="#4D4D4D">2500</text>
<line x1="348.4" x2="350.3" y1="357.6" y2="357.6" stroke="#333333" stroke-width="0.6"/>
<text x="346.8" y="359.81" font-size="4.75" text-anchor="end" fill="#4D4D4D">2000</text>
<line x1="348.4" x2="350.3" y1="374.8" y2="374.8" stroke="#333333" stroke-width="0.6"/>
<text x="346.8" y="377.01" font-size="4.75" text-anchor="end" fill="#4D4D4D">1500</text>
<line x1="348.4" x2="350.3" y1="392" y2="392" stroke="#333333" stroke-width="0.6"/>
<text x="346.8" y="394.21" font-size="4.75" text-anchor="end" fill="#4D4D4D">1000</text>
</g>
<g>
<rect x="454.6" y="323.4" width="91.2" height="83.6" fill="#fff"/>
<g clip-path="url(#cp19)" stroke="#EBEBEB" fill="none">
<line x1="454.6" x2="545.8" y1="334.45" y2="334.45" stroke-width="0.35"/>
<line x1="454.6" x2="545.8" y1="354.85" y2="354.85" stroke-width="0.35"/>
<line x1="454.6" x2="545.8" y1="375.25" y2="375.25" stroke-width="0.35"/>
<line x1="454.6" x2="545.8" y1="395.45" y2="395.45" stroke-width="0.35"/>
<line x1="454.6" x2="545.8" y1="324.4" y2="324.4" stroke-width="0.7"/>
<line x1="454.6" x2="545.8" y1="344.6" y2="344.6" stroke-width="0.7"/>
<line x1="454.6" x2="545.8" y1="365" y2="365" stroke-width="0.7"/>
<line x1="454.6" x2="545.8" y1="385.4" y2="385.4" stroke-width="0.7"/>
<line x1="454.6" x2="545.8" y1="405.6" y2="405.6" stroke-width="0.7"/>
<line x1="471.7" x2="471.7" y1="323.4" y2="407" stroke-width="0.7"/>
<line x1="500.2" x2="500.2" y1="323.4" y2="407" stroke-width="0.7"/>
<line x1="528.7" x2="528.7" y1="323.4" y2="407" stroke-width="0.7"/>
</g>
<g clip-path="url(#cp19)">
<line x1="471.7" x2="471.7" y1="344.4" y2="366" stroke="#333333" stroke-width="0.7"/>
<line x1="471.7" x2="471.7" y1="381.4" y2="394.4" stroke="#333333" stroke-width="0.7"/>
<rect x="461.01" y="366" width="21.37" height="15.4" fill="#440154" stroke="#333333" stroke-width="0.5"/>
<line x1="461.01" x2="482.39" y1="374" y2="374" stroke="#333333" stroke-width="1.05"/>
<line x1="500.2" x2="500.2" y1="368.4" y2="372.6" stroke="#333333" stroke-width="0.7"/>
<line x1="500.2" x2="500.2" y1="392.6" y2="403.4" stroke="#333333" stroke-width="0.7"/>
<rect x="489.51" y="372.6" width="21.37" height="20" fill="#21908C" stroke="#333333" stroke-width="0.5"/>
<line x1="489.51" x2="510.89" y1="381.2" y2="381.2" stroke="#333333" stroke-width="1.05"/>
<line x1="528.7" x2="528.7" y1="327.4" y2="352" stroke="#333333" stroke-width="0.7"/>
<line x1="528.7" x2="528.7" y1="368.6" y2="383.4" stroke="#333333" stroke-width="0.7"/>
<rect x="518.01" y="352" width="21.37" height="16.6" fill="#FDE725" stroke="#333333" stroke-width="0.5"/>
<line x1="518.01" x2="539.39" y1="359.6" y2="359.6" stroke="#333333" stroke-width="1.05"/>
<circle cx="471.7" cy="336.4" r="1.35" fill="#1a1a1a"/>
<path d="M498 338.4 Q498.5 336.3 500.8 336.3 L529 336.3 Q531.3 336.3 531.8 338.4" fill="none" stroke="#1a1a1a" stroke-width="1.05" stroke-linecap="round"/>
<text x="515.15" y="336" font-size="8.4" font-weight="bold" letter-spacing="0.7" text-anchor="middle" fill="#222">***</text>
</g>
<rect x="454.6" y="323.4" width="91.2" height="83.6" fill="none" stroke="#333333" stroke-opacity="0.5" stroke-width="1"/>
<rect x="454.6" y="312.9" width="91.2" height="10.5" fill="#D9D9D9" stroke="#333333" stroke-opacity="0.5" stroke-width="1"/>
<text x="500.2" y="320.72" font-size="5.9" text-anchor="middle" fill="#1A1A1A">PCK2</text>
<line x1="452.7" x2="454.6" y1="324.4" y2="324.4" stroke="#333333" stroke-width="0.6"/>
<text x="451.1" y="326.61" font-size="4.75" text-anchor="end" fill="#4D4D4D">125</text>
<line x1="452.7" x2="454.6" y1="344.6" y2="344.6" stroke="#333333" stroke-width="0.6"/>
<text x="451.1" y="346.81" font-size="4.75" text-anchor="end" fill="#4D4D4D">100</text>
<line x1="452.7" x2="454.6" y1="365" y2="365" stroke="#333333" stroke-width="0.6"/>
<text x="451.1" y="367.21" font-size="4.75" text-anchor="end" fill="#4D4D4D">75</text>
<line x1="452.7" x2="454.6" y1="385.4" y2="385.4" stroke="#333333" stroke-width="0.6"/>
<text x="451.1" y="387.61" font-size="4.75" text-anchor="end" fill="#4D4D4D">50</text>
<line x1="452.7" x2="454.6" y1="405.6" y2="405.6" stroke="#333333" stroke-width="0.6"/>
<text x="451.1" y="407.81" font-size="4.75" text-anchor="end" fill="#4D4D4D">25</text>
</g>
<g>
<rect x="23.1" y="419.7" width="90.7" height="83.6" fill="#fff"/>
<g clip-path="url(#cp20)" stroke="#EBEBEB" fill="none">
<line x1="23.1" x2="113.8" y1="426.5" y2="426.5" stroke-width="0.35"/>
<line x1="23.1" x2="113.8" y1="448.7" y2="448.7" stroke-width="0.35"/>
<line x1="23.1" x2="113.8" y1="470.9" y2="470.9" stroke-width="0.35"/>
<line x1="23.1" x2="113.8" y1="493.1" y2="493.1" stroke-width="0.35"/>
<line x1="23.1" x2="113.8" y1="437.6" y2="437.6" stroke-width="0.7"/>
<line x1="23.1" x2="113.8" y1="459.8" y2="459.8" stroke-width="0.7"/>
<line x1="23.1" x2="113.8" y1="482" y2="482" stroke-width="0.7"/>
<line x1="40.11" x2="40.11" y1="419.7" y2="503.3" stroke-width="0.7"/>
<line x1="68.45" x2="68.45" y1="419.7" y2="503.3" stroke-width="0.7"/>
<line x1="96.79" x2="96.79" y1="419.7" y2="503.3" stroke-width="0.7"/>
</g>
<g clip-path="url(#cp20)">
<line x1="40.11" x2="40.11" y1="465" y2="469.5" stroke="#333333" stroke-width="0.7"/>
<line x1="40.11" x2="40.11" y1="491" y2="496" stroke="#333333" stroke-width="0.7"/>
<rect x="29.48" y="469.5" width="21.26" height="21.5" fill="#440154" stroke="#333333" stroke-width="0.5"/>
<line x1="29.48" x2="50.74" y1="481" y2="481" stroke="#333333" stroke-width="1.05"/>
<line x1="68.45" x2="68.45" y1="487.6" y2="491.6" stroke="#333333" stroke-width="0.7"/>
<line x1="68.45" x2="68.45" y1="496.7" y2="498.7" stroke="#333333" stroke-width="0.7"/>
<rect x="57.82" y="491.6" width="21.26" height="5.1" fill="#21908C" stroke="#333333" stroke-width="0.5"/>
<line x1="57.82" x2="79.08" y1="494" y2="494" stroke="#333333" stroke-width="1.05"/>
<line x1="96.79" x2="96.79" y1="482.6" y2="489.2" stroke="#333333" stroke-width="0.7"/>
<line x1="96.79" x2="96.79" y1="495.6" y2="499.7" stroke="#333333" stroke-width="0.7"/>
<rect x="86.16" y="489.2" width="21.26" height="6.4" fill="#FDE725" stroke="#333333" stroke-width="0.5"/>
<line x1="86.16" x2="107.42" y1="492.6" y2="492.6" stroke="#333333" stroke-width="1.05"/>
<circle cx="40.11" cy="423.7" r="1.35" fill="#1a1a1a"/>
<path d="M37.1 437.6 Q37.6 435.5 39.9 435.5 L67.8 435.5 Q70.1 435.5 70.6 437.6" fill="none" stroke="#1a1a1a" stroke-width="1.05" stroke-linecap="round"/>
<text x="54.25" y="435.2" font-size="8.4" font-weight="bold" letter-spacing="0.7" text-anchor="middle" fill="#222">***</text>
</g>
<rect x="23.1" y="419.7" width="90.7" height="83.6" fill="none" stroke="#333333" stroke-opacity="0.5" stroke-width="1"/>
<rect x="23.1" y="409.2" width="90.7" height="10.5" fill="#D9D9D9" stroke="#333333" stroke-opacity="0.5" stroke-width="1"/>
<text x="68.45" y="417.02" font-size="5.9" text-anchor="middle" fill="#1A1A1A">PFKFB3</text>
<line x1="21.2" x2="23.1" y1="437.6" y2="437.6" stroke="#333333" stroke-width="0.6"/>
<text x="19.6" y="439.81" font-size="4.75" text-anchor="end" fill="#4D4D4D">750</text>
<line x1="21.2" x2="23.1" y1="459.8" y2="459.8" stroke="#333333" stroke-width="0.6"/>
<text x="19.6" y="462.01" font-size="4.75" text-anchor="end" fill="#4D4D4D">500</text>
<line x1="21.2" x2="23.1" y1="482" y2="482" stroke="#333333" stroke-width="0.6"/>
<text x="19.6" y="484.21" font-size="4.75" text-anchor="end" fill="#4D4D4D">250</text>
<line x1="40.11" x2="40.11" y1="503.3" y2="505.2" stroke="#333333" stroke-width="0.6"/>
<text x="40.11" y="511.9" font-size="6.35" text-anchor="middle" fill="#4D4D4D">healthy</text>
<line x1="68.45" x2="68.45" y1="503.3" y2="505.2" stroke="#333333" stroke-width="0.6"/>
<text x="68.45" y="511.9" font-size="6.35" text-anchor="middle" fill="#4D4D4D">RA untreated</text>
<line x1="96.79" x2="96.79" y1="503.3" y2="505.2" stroke="#333333" stroke-width="0.6"/>
<text x="96.79" y="511.9" font-size="6.35" text-anchor="middle" fill="#4D4D4D">TCZ</text>
</g>
<g>
<rect x="130.5" y="419.7" width="90.7" height="83.6" fill="#fff"/>
<g clip-path="url(#cp21)" stroke="#EBEBEB" fill="none">
<line x1="130.5" x2="221.2" y1="442.02" y2="442.02" stroke-width="0.35"/>
<line x1="130.5" x2="221.2" y1="465.02" y2="465.02" stroke-width="0.35"/>
<line x1="130.5" x2="221.2" y1="488.02" y2="488.02" stroke-width="0.35"/>
<line x1="130.5" x2="221.2" y1="430.6" y2="430.6" stroke-width="0.7"/>
<line x1="130.5" x2="221.2" y1="453.5" y2="453.5" stroke-width="0.7"/>
<line x1="130.5" x2="221.2" y1="476.5" y2="476.5" stroke-width="0.7"/>
<line x1="130.5" x2="221.2" y1="499.5" y2="499.5" stroke-width="0.7"/>
<line x1="147.51" x2="147.51" y1="419.7" y2="503.3" stroke-width="0.7"/>
<line x1="175.85" x2="175.85" y1="419.7" y2="503.3" stroke-width="0.7"/>
<line x1="204.19" x2="204.19" y1="419.7" y2="503.3" stroke-width="0.7"/>
</g>
<g clip-path="url(#cp21)">
<line x1="147.51" x2="147.51" y1="489.6" y2="491" stroke="#333333" stroke-width="0.7"/>
<line x1="147.51" x2="147.51" y1="495.2" y2="499.5" stroke="#333333" stroke-width="0.7"/>
<rect x="136.88" y="491" width="21.26" height="4.2" fill="#440154" stroke="#333333" stroke-width="0.5"/>
<line x1="136.88" x2="158.14" y1="493" y2="493" stroke="#333333" stroke-width="1.05"/>
<line x1="175.85" x2="175.85" y1="472" y2="477.5" stroke="#333333" stroke-width="0.7"/>
<line x1="175.85" x2="175.85" y1="490.2" y2="497.7" stroke="#333333" stroke-width="0.7"/>
<rect x="165.22" y="477.5" width="21.26" height="12.7" fill="#21908C" stroke="#333333" stroke-width="0.5"/>
<line x1="165.22" x2="186.48" y1="485.6" y2="485.6" stroke="#333333" stroke-width="1.05"/>
<line x1="204.19" x2="204.19" y1="478" y2="488.2" stroke="#333333" stroke-width="0.7"/>
<line x1="204.19" x2="204.19" y1="496.2" y2="498.7" stroke="#333333" stroke-width="0.7"/>
<rect x="193.56" y="488.2" width="21.26" height="8" fill="#FDE725" stroke="#333333" stroke-width="0.5"/>
<line x1="193.56" x2="214.82" y1="492.6" y2="492.6" stroke="#333333" stroke-width="1.05"/>
<circle cx="147.51" cy="485" r="1.35" fill="#1a1a1a"/>
<circle cx="175.85" cy="423.7" r="1.35" fill="#1a1a1a"/>
<path d="M143.4 437.6 Q143.9 435.5 146.2 435.5 L174.2 435.5 Q176.5 435.5 177 437.6" fill="none" stroke="#1a1a1a" stroke-width="1.05" stroke-linecap="round"/>
<text x="160.45" y="435.2" font-size="8.4" font-weight="bold" letter-spacing="0.7" text-anchor="middle" fill="#222">***</text>
</g>
<rect x="130.5" y="419.7" width="90.7" height="83.6" fill="none" stroke="#333333" stroke-opacity="0.5" stroke-width="1"/>
<rect x="130.5" y="409.2" width="90.7" height="10.5" fill="#D9D9D9" stroke="#333333" stroke-opacity="0.5" stroke-width="1"/>
<text x="175.85" y="417.02" font-size="5.9" text-anchor="middle" fill="#1A1A1A">PFKFB4</text>
<line x1="128.6" x2="130.5" y1="430.6" y2="430.6" stroke="#333333" stroke-width="0.6"/>
<text x="127" y="432.81" font-size="4.75" text-anchor="end" fill="#4D4D4D">60</text>
<line x1="128.6" x2="130.5" y1="453.5" y2="453.5" stroke="#333333" stroke-width="0.6"/>
<text x="127" y="455.71" font-size="4.75" text-anchor="end" fill="#4D4D4D">40</text>
<line x1="128.6" x2="130.5" y1="476.5" y2="476.5" stroke="#333333" stroke-width="0.6"/>
<text x="127" y="478.71" font-size="4.75" text-anchor="end" fill="#4D4D4D">20</text>
<line x1="128.6" x2="130.5" y1="499.5" y2="499.5" stroke="#333333" stroke-width="0.6"/>
<text x="127" y="501.71" font-size="4.75" text-anchor="end" fill="#4D4D4D">0</text>
<line x1="147.51" x2="147.51" y1="503.3" y2="505.2" stroke="#333333" stroke-width="0.6"/>
<text x="147.51" y="511.9" font-size="6.35" text-anchor="middle" fill="#4D4D4D">healthy</text>
<line x1="175.85" x2="175.85" y1="503.3" y2="505.2" stroke="#333333" stroke-width="0.6"/>
<text x="175.85" y="511.9" font-size="6.35" text-anchor="middle" fill="#4D4D4D">RA untreated</text>
<line x1="204.19" x2="204.19" y1="503.3" y2="505.2" stroke="#333333" stroke-width="0.6"/>
<text x="204.19" y="511.9" font-size="6.35" text-anchor="middle" fill="#4D4D4D">TCZ</text>
</g>
<g>
<rect x="240.1" y="419.7" width="91.1" height="83.6" fill="#fff"/>
<g clip-path="url(#cp22)" stroke="#EBEBEB" fill="none">
<line x1="240.1" x2="331.2" y1="437.24" y2="437.24" stroke-width="0.35"/>
<line x1="240.1" x2="331.2" y1="455.34" y2="455.34" stroke-width="0.35"/>
<line x1="240.1" x2="331.2" y1="473.54" y2="473.54" stroke-width="0.35"/>
<line x1="240.1" x2="331.2" y1="491.64" y2="491.64" stroke-width="0.35"/>
<line x1="240.1" x2="331.2" y1="428.2" y2="428.2" stroke-width="0.7"/>
<line x1="240.1" x2="331.2" y1="446.3" y2="446.3" stroke-width="0.7"/>
<line x1="240.1" x2="331.2" y1="464.4" y2="464.4" stroke-width="0.7"/>
<line x1="240.1" x2="331.2" y1="482.6" y2="482.6" stroke-width="0.7"/>
<line x1="240.1" x2="331.2" y1="500.7" y2="500.7" stroke-width="0.7"/>
<line x1="257.18" x2="257.18" y1="419.7" y2="503.3" stroke-width="0.7"/>
<line x1="285.65" x2="285.65" y1="419.7" y2="503.3" stroke-width="0.7"/>
<line x1="314.12" x2="314.12" y1="419.7" y2="503.3" stroke-width="0.7"/>
</g>
<g clip-path="url(#cp22)">
<line x1="257.18" x2="257.18" y1="426.1" y2="429.6" stroke="#333333" stroke-width="0.7"/>
<line x1="257.18" x2="257.18" y1="439.8" y2="450" stroke="#333333" stroke-width="0.7"/>
<rect x="246.51" y="429.6" width="21.35" height="10.2" fill="#440154" stroke="#333333" stroke-width="0.5"/>
<line x1="246.51" x2="267.86" y1="433.6" y2="433.6" stroke="#333333" stroke-width="1.05"/>
<line x1="285.65" x2="285.65" y1="452" y2="455.8" stroke="#333333" stroke-width="0.7"/>
<line x1="285.65" x2="285.65" y1="474.9" y2="483.6" stroke="#333333" stroke-width="0.7"/>
<rect x="274.97" y="455.8" width="21.35" height="19.1" fill="#21908C" stroke="#333333" stroke-width="0.5"/>
<line x1="274.97" x2="296.33" y1="465" y2="465" stroke="#333333" stroke-width="1.05"/>
<line x1="314.12" x2="314.12" y1="423.7" y2="453" stroke="#333333" stroke-width="0.7"/>
<line x1="314.12" x2="314.12" y1="472.9" y2="499.7" stroke="#333333" stroke-width="0.7"/>
<rect x="303.44" y="453" width="21.35" height="19.9" fill="#FDE725" stroke="#333333" stroke-width="0.5"/>
<line x1="303.44" x2="324.79" y1="459.6" y2="459.6" stroke="#333333" stroke-width="1.05"/>
<circle cx="257.18" cy="460" r="1.35" fill="#1a1a1a"/>
<path d="M258.6 428.8 Q259.1 426.7 261.4 426.7 L289.5 426.7 Q291.8 426.7 292.3 428.8" fill="none" stroke="#1a1a1a" stroke-width="1.05" stroke-linecap="round"/>
<text x="275.85" y="426.4" font-size="8.4" font-weight="bold" letter-spacing="0.7" text-anchor="middle" fill="#222">***</text>
</g>
<rect x="240.1" y="419.7" width="91.1" height="83.6" fill="none" stroke="#333333" stroke-opacity="0.5" stroke-width="1"/>
<rect x="240.1" y="409.2" width="91.1" height="10.5" fill="#D9D9D9" stroke="#333333" stroke-opacity="0.5" stroke-width="1"/>
<text x="285.65" y="417.02" font-size="5.9" text-anchor="middle" fill="#1A1A1A">RUNX3</text>
<line x1="238.2" x2="240.1" y1="428.2" y2="428.2" stroke="#333333" stroke-width="0.6"/>
<text x="236.6" y="430.41" font-size="4.75" text-anchor="end" fill="#4D4D4D">5000</text>
<line x1="238.2" x2="240.1" y1="446.3" y2="446.3" stroke="#333333" stroke-width="0.6"/>
<text x="236.6" y="448.51" font-size="4.75" text-anchor="end" fill="#4D4D4D">4000</text>
<line x1="238.2" x2="240.1" y1="464.4" y2="464.4" stroke="#333333" stroke-width="0.6"/>
<text x="236.6" y="466.61" font-size="4.75" text-anchor="end" fill="#4D4D4D">3000</text>
<line x1="238.2" x2="240.1" y1="482.6" y2="482.6" stroke="#333333" stroke-width="0.6"/>
<text x="236.6" y="484.81" font-size="4.75" text-anchor="end" fill="#4D4D4D">2000</text>
<line x1="238.2" x2="240.1" y1="500.7" y2="500.7" stroke="#333333" stroke-width="0.6"/>
<text x="236.6" y="502.91" font-size="4.75" text-anchor="end" fill="#4D4D4D">1000</text>
<line x1="257.18" x2="257.18" y1="503.3" y2="505.2" stroke="#333333" stroke-width="0.6"/>
<text x="257.18" y="511.9" font-size="6.35" text-anchor="middle" fill="#4D4D4D">healthy</text>
<line x1="285.65" x2="285.65" y1="503.3" y2="505.2" stroke="#333333" stroke-width="0.6"/>
<text x="285.65" y="511.9" font-size="6.35" text-anchor="middle" fill="#4D4D4D">RA untreated</text>
<line x1="314.12" x2="314.12" y1="503.3" y2="505.2" stroke="#333333" stroke-width="0.6"/>
<text x="314.12" y="511.9" font-size="6.35" text-anchor="middle" fill="#4D4D4D">TCZ</text>
</g>
<g>
<rect x="350.3" y="419.7" width="90.5" height="83.6" fill="#fff"/>
<g clip-path="url(#cp23)" stroke="#EBEBEB" fill="none">
<line x1="350.3" x2="440.8" y1="430.4" y2="430.4" stroke-width="0.35"/>
<line x1="350.3" x2="440.8" y1="465" y2="465" stroke-width="0.35"/>
<line x1="350.3" x2="440.8" y1="499.6" y2="499.6" stroke-width="0.35"/>
<line x1="350.3" x2="440.8" y1="447.7" y2="447.7" stroke-width="0.7"/>
<line x1="350.3" x2="440.8" y1="482.3" y2="482.3" stroke-width="0.7"/>
<line x1="367.27" x2="367.27" y1="419.7" y2="503.3" stroke-width="0.7"/>
<line x1="395.55" x2="395.55" y1="419.7" y2="503.3" stroke-width="0.7"/>
<line x1="423.83" x2="423.83" y1="419.7" y2="503.3" stroke-width="0.7"/>
</g>
<g clip-path="url(#cp23)">
<line x1="367.27" x2="367.27" y1="492.4" y2="492.6" stroke="#333333" stroke-width="0.7"/>
<line x1="367.27" x2="367.27" y1="495.8" y2="497.7" stroke="#333333" stroke-width="0.7"/>
<rect x="356.66" y="492.6" width="21.21" height="3.2" fill="#440154" stroke="#333333" stroke-width="0.5"/>
<line x1="356.66" x2="377.87" y1="494.2" y2="494.2" stroke="#333333" stroke-width="1.05"/>
<line x1="395.55" x2="395.55" y1="470.9" y2="480.9" stroke="#333333" stroke-width="0.7"/>
<line x1="395.55" x2="395.55" y1="493" y2="499" stroke="#333333" stroke-width="0.7"/>
<rect x="384.94" y="480.9" width="21.21" height="12.1" fill="#21908C" stroke="#333333" stroke-width="0.5"/>
<line x1="384.94" x2="406.16" y1="488.2" y2="488.2" stroke="#333333" stroke-width="1.05"/>
<line x1="423.83" x2="423.83" y1="475" y2="478.9" stroke="#333333" stroke-width="0.7"/>
<line x1="423.83" x2="423.83" y1="488.6" y2="492.6" stroke="#333333" stroke-width="0.7"/>
<rect x="413.23" y="478.9" width="21.21" height="9.7" fill="#FDE725" stroke="#333333" stroke-width="0.5"/>
<line x1="413.23" x2="434.44" y1="484.6" y2="484.6" stroke="#333333" stroke-width="1.05"/>
<circle cx="367.27" cy="482.3" r="1.35" fill="#1a1a1a"/>
<circle cx="395.55" cy="423.7" r="1.35" fill="#1a1a1a"/>
<circle cx="423.83" cy="462" r="1.35" fill="#1a1a1a"/>
<path d="M364.8 428.8 Q365.3 426.7 367.6 426.7 L395.9 426.7 Q398.2 426.7 398.7 428.8" fill="none" stroke="#1a1a1a" stroke-width="1.05" stroke-linecap="round"/>
<text x="381.85" y="426.4" font-size="8.4" font-weight="bold" letter-spacing="0.7" text-anchor="middle" fill="#222">***</text>
</g>
<rect x="350.3" y="419.7" width="90.5" height="83.6" fill="none" stroke="#333333" stroke-opacity="0.5" stroke-width="1"/>
<rect x="350.3" y="409.2" width="90.5" height="10.5" fill="#D9D9D9" stroke="#333333" stroke-opacity="0.5" stroke-width="1"/>
<text x="395.55" y="417.02" font-size="5.9" text-anchor="middle" fill="#1A1A1A">TALDO1</text>
<line x1="348.4" x2="350.3" y1="447.7" y2="447.7" stroke="#333333" stroke-width="0.6"/>
<text x="346.8" y="449.91" font-size="4.75" text-anchor="end" fill="#4D4D4D">1000</text>
<line x1="348.4" x2="350.3" y1="482.3" y2="482.3" stroke="#333333" stroke-width="0.6"/>
<text x="346.8" y="484.51" font-size="4.75" text-anchor="end" fill="#4D4D4D">500</text>
<line x1="367.27" x2="367.27" y1="503.3" y2="505.2" stroke="#333333" stroke-width="0.6"/>
<text x="367.27" y="511.9" font-size="6.35" text-anchor="middle" fill="#4D4D4D">healthy</text>
<line x1="395.55" x2="395.55" y1="503.3" y2="505.2" stroke="#333333" stroke-width="0.6"/>
<text x="395.55" y="511.9" font-size="6.35" text-anchor="middle" fill="#4D4D4D">RA untreated</text>
<line x1="423.83" x2="423.83" y1="503.3" y2="505.2" stroke="#333333" stroke-width="0.6"/>
<text x="423.83" y="511.9" font-size="6.35" text-anchor="middle" fill="#4D4D4D">TCZ</text>
</g>
<g>
<rect x="454.6" y="419.7" width="91.2" height="83.6" fill="#fff"/>
<g clip-path="url(#cp24)" stroke="#EBEBEB" fill="none">
<line x1="454.6" x2="545.8" y1="431.7" y2="431.7" stroke-width="0.35"/>
<line x1="454.6" x2="545.8" y1="460.9" y2="460.9" stroke-width="0.35"/>
<line x1="454.6" x2="545.8" y1="490.1" y2="490.1" stroke-width="0.35"/>
<line x1="454.6" x2="545.8" y1="446.3" y2="446.3" stroke-width="0.7"/>
<line x1="454.6" x2="545.8" y1="475.5" y2="475.5" stroke-width="0.7"/>
<line x1="471.7" x2="471.7" y1="419.7" y2="503.3" stroke-width="0.7"/>
<line x1="500.2" x2="500.2" y1="419.7" y2="503.3" stroke-width="0.7"/>
<line x1="528.7" x2="528.7" y1="419.7" y2="503.3" stroke-width="0.7"/>
</g>
<g clip-path="url(#cp24)">
<line x1="471.7" x2="471.7" y1="492.4" y2="492.6" stroke="#333333" stroke-width="0.7"/>
<line x1="471.7" x2="471.7" y1="498.3" y2="498.5" stroke="#333333" stroke-width="0.7"/>
<rect x="461.01" y="492.6" width="21.37" height="5.7" fill="#440154" stroke="#333333" stroke-width="0.5"/>
<line x1="461.01" x2="482.39" y1="494" y2="494" stroke="#333333" stroke-width="1.05"/>
<line x1="500.2" x2="500.2" y1="462.8" y2="477.3" stroke="#333333" stroke-width="0.7"/>
<line x1="500.2" x2="500.2" y1="495.2" y2="497.3" stroke="#333333" stroke-width="0.7"/>
<rect x="489.51" y="477.3" width="21.37" height="17.9" fill="#21908C" stroke="#333333" stroke-width="0.5"/>
<line x1="489.51" x2="510.89" y1="490.2" y2="490.2" stroke="#333333" stroke-width="1.05"/>
<line x1="528.7" x2="528.7" y1="484" y2="489" stroke="#333333" stroke-width="0.7"/>
<line x1="528.7" x2="528.7" y1="496.7" y2="498.7" stroke="#333333" stroke-width="0.7"/>
<rect x="518.01" y="489" width="21.37" height="7.7" fill="#FDE725" stroke="#333333" stroke-width="0.5"/>
<line x1="518.01" x2="539.39" y1="494" y2="494" stroke="#333333" stroke-width="1.05"/>
<circle cx="500.2" cy="423.7" r="1.35" fill="#1a1a1a"/>
<path d="M470.8 429 Q471.3 426.9 473.6 426.9 L502.1 426.9 Q504.4 426.9 504.9 429" fill="none" stroke="#1a1a1a" stroke-width="1.05" stroke-linecap="round"/>
<text x="488.25" y="426.6" font-size="8.4" font-weight="bold" letter-spacing="0.7" text-anchor="middle" fill="#222">***</text>
</g>
<rect x="454.6" y="419.7" width="91.2" height="83.6" fill="none" stroke="#333333" stroke-opacity="0.5" stroke-width="1"/>
<rect x="454.6" y="409.2" width="91.2" height="10.5" fill="#D9D9D9" stroke="#333333" stroke-opacity="0.5" stroke-width="1"/>
<text x="500.2" y="417.02" font-size="5.9" text-anchor="middle" fill="#1A1A1A">UQCRHL</text>
<line x1="452.7" x2="454.6" y1="446.3" y2="446.3" stroke="#333333" stroke-width="0.6"/>
<text x="451.1" y="448.51" font-size="4.75" text-anchor="end" fill="#4D4D4D">100</text>
<line x1="452.7" x2="454.6" y1="475.5" y2="475.5" stroke="#333333" stroke-width="0.6"/>
<text x="451.1" y="477.71" font-size="4.75" text-anchor="end" fill="#4D4D4D">50</text>
<line x1="471.7" x2="471.7" y1="503.3" y2="505.2" stroke="#333333" stroke-width="0.6"/>
<text x="471.7" y="511.9" font-size="6.35" text-anchor="middle" fill="#4D4D4D">healthy</text>
<line x1="500.2" x2="500.2" y1="503.3" y2="505.2" stroke="#333333" stroke-width="0.6"/>
<text x="500.2" y="511.9" font-size="6.35" text-anchor="middle" fill="#4D4D4D">RA untreated</text>
<line x1="528.7" x2="528.7" y1="503.3" y2="505.2" stroke="#333333" stroke-width="0.6"/>
<text x="528.7" y="511.9" font-size="6.35" text-anchor="middle" fill="#4D4D4D">TCZ</text>
</g>
<text x="284.5" y="520.3" font-size="7.1" text-anchor="middle" fill="#000">condition</text>
<text transform="translate(9.0 269.3) rotate(-90)" font-size="7.1" text-anchor="middle" fill="#000">counts</text>
<text x="211.9" y="539.7" font-size="7.1" fill="#000">condition</text>
<line x1="249.5" x2="249.5" y1="532.5" y2="541.5" stroke="#333333" stroke-width="0.7"/>
<rect x="245.4" y="534.2" width="8.2" height="5.6" fill="#440154" stroke="#333333" stroke-width="0.6"/>
<line x1="245.4" x2="253.6" y1="537" y2="537" stroke="#333333" stroke-width="0.9"/>
<text x="258.4" y="539.1" font-size="5.6" fill="#000">healthy</text>
<line x1="285.4" x2="285.4" y1="532.5" y2="541.5" stroke="#333333" stroke-width="0.7"/>
<rect x="281.3" y="534.2" width="8.2" height="5.6" fill="#21908C" stroke="#333333" stroke-width="0.6"/>
<line x1="281.3" x2="289.5" y1="537" y2="537" stroke="#333333" stroke-width="0.9"/>
<text x="294.2" y="539.1" font-size="5.6" fill="#000">RA untreated</text>
<line x1="336.5" x2="336.5" y1="532.5" y2="541.5" stroke="#333333" stroke-width="0.7"/>
<rect x="332.4" y="534.2" width="8.2" height="5.6" fill="#FDE725" stroke="#333333" stroke-width="0.6"/>
<line x1="332.4" x2="340.6" y1="537" y2="537" stroke="#333333" stroke-width="0.9"/>
<text x="345.3" y="539.1" font-size="5.6" fill="#000">TCZ</text>
</svg>
</body>
</html>
